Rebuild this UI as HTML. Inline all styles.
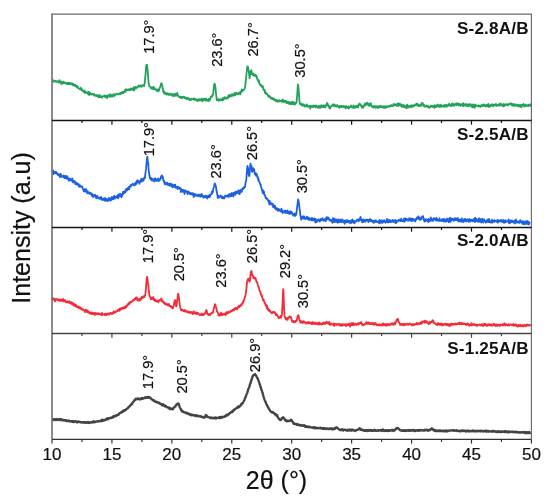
<!DOCTYPE html>
<html><head><meta charset="utf-8"><style>html,body{margin:0;padding:0;background:#fff;}svg{display:block;filter:blur(0.3px);}</style></head>
<body><svg width="550" height="503" viewBox="0 0 550 503">
<rect width="550" height="503" fill="#fff"/>
<path d="M52.2 81.1L52.5 81.5 52.8 81.2 53.1 80.1 53.4 81.6 53.7 81.3 54.0 80.7 54.3 81.5 54.6 81.4 54.9 81.4 55.2 81.3 55.5 81.6 55.8 80.8 56.1 81.3 56.4 81.1 56.7 81.8 57.0 81.5 57.3 81.4 57.6 81.1 57.9 81.5 58.2 81.7 58.5 81.6 58.8 82.7 59.1 82.6 59.4 80.2 59.7 80.8 60.0 82.0 60.3 81.9 60.6 82.4 60.9 82.5 61.2 83.8 61.5 81.7 61.8 82.3 62.1 83.9 62.4 83.1 62.7 83.2 63.0 82.5 63.3 81.8 63.6 83.0 63.9 83.1 64.2 82.3 64.5 82.7 64.8 83.1 65.1 82.6 65.4 83.2 65.7 83.3 66.0 83.3 66.3 83.0 66.6 83.8 66.9 84.0 67.2 83.7 67.5 82.9 67.8 84.0 68.1 83.2 68.4 84.2 68.7 82.9 69.0 84.2 69.3 83.7 69.6 82.9 69.9 83.6 70.2 83.8 70.5 84.0 70.8 83.3 71.1 83.2 71.4 84.1 71.7 83.8 72.0 84.3 72.3 84.7 72.6 83.3 72.9 84.6 73.2 85.4 73.5 84.5 73.8 84.3 74.1 85.5 74.4 85.3 74.7 85.9 75.0 85.3 75.3 84.8 75.6 85.9 75.9 85.8 76.2 86.8 76.5 86.6 76.8 85.7 77.1 86.1 77.4 87.7 77.7 87.8 78.0 87.1 78.3 87.7 78.6 88.2 78.9 88.4 79.2 88.8 79.5 88.6 79.8 88.6 80.1 88.6 80.4 89.7 80.7 87.7 81.0 89.3 81.3 89.6 81.6 88.8 81.9 90.2 82.2 89.7 82.5 90.9 82.8 90.5 83.1 91.2 83.4 91.7 83.7 91.4 84.0 90.7 84.3 90.5 84.6 92.8 84.9 91.7 85.2 91.5 85.5 92.2 85.8 92.1 86.1 92.9 86.4 92.5 86.7 92.6 87.0 92.3 87.3 93.1 87.6 92.3 87.9 93.5 88.2 94.1 88.5 92.3 88.8 91.8 89.1 93.8 89.4 95.2 89.7 93.0 90.0 92.9 90.3 94.2 90.6 93.3 90.9 93.6 91.2 93.8 91.5 94.5 91.8 94.0 92.1 94.5 92.4 94.3 92.7 93.9 93.0 94.3 93.3 94.0 93.6 94.7 93.9 94.1 94.2 94.2 94.5 95.9 94.8 95.0 95.1 95.1 95.4 95.6 95.7 95.1 96.0 95.3 96.3 95.8 96.6 95.8 96.9 95.0 97.2 96.4 97.5 95.5 97.8 95.3 98.1 95.5 98.4 95.9 98.7 97.3 99.0 95.5 99.3 96.5 99.6 95.0 99.9 96.4 100.2 97.1 100.5 96.3 100.8 96.1 101.1 96.7 101.4 97.0 101.7 96.9 102.0 97.8 102.3 96.6 102.6 96.1 102.9 96.4 103.2 96.4 103.5 96.5 103.8 96.4 104.1 96.5 104.4 95.3 104.7 96.9 105.0 96.0 105.3 95.6 105.6 96.8 105.9 97.2 106.2 96.6 106.5 96.4 106.8 95.7 107.1 98.1 107.4 96.8 107.7 95.5 108.0 95.7 108.3 96.2 108.6 95.2 108.9 96.2 109.2 95.8 109.5 96.9 109.8 96.6 110.1 94.2 110.4 95.9 110.7 94.8 111.0 96.5 111.3 95.8 111.6 96.0 111.9 94.9 112.2 96.7 112.5 96.7 112.8 94.7 113.1 95.5 113.4 94.8 113.7 95.1 114.0 94.2 114.3 96.2 114.6 94.3 114.9 94.6 115.2 95.1 115.5 94.3 115.8 94.5 116.1 94.2 116.4 94.4 116.7 93.7 117.0 94.1 117.3 94.2 117.6 94.1 117.9 94.3 118.2 94.0 118.5 94.6 118.8 93.8 119.1 93.9 119.4 93.5 119.7 93.5 120.0 93.0 120.3 94.1 120.6 92.9 120.9 93.1 121.2 93.7 121.5 93.7 121.8 93.1 122.1 91.9 122.4 93.4 122.7 93.2 123.0 91.9 123.3 93.1 123.6 91.9 123.9 91.4 124.2 91.9 124.5 91.4 124.8 91.3 125.1 89.8 125.4 91.8 125.7 90.0 126.0 89.2 126.3 90.4 126.6 89.8 126.9 90.2 127.2 89.7 127.5 89.9 127.8 90.1 128.1 89.4 128.4 90.3 128.7 89.6 129.0 89.3 129.3 89.9 129.6 90.1 129.9 89.7 130.2 89.2 130.5 90.1 130.8 88.5 131.1 89.0 131.4 89.6 131.7 88.6 132.0 89.4 132.3 89.3 132.6 89.8 132.9 88.5 133.2 88.6 133.5 89.1 133.8 87.1 134.1 90.6 134.4 88.0 134.7 87.9 135.0 88.8 135.3 88.1 135.6 86.8 135.9 88.3 136.2 88.3 136.5 87.3 136.8 87.3 137.1 87.6 137.4 86.6 137.7 87.3 138.0 86.9 138.3 86.2 138.6 85.6 138.9 86.2 139.2 85.6 139.5 86.7 139.8 86.1 140.1 86.4 140.4 86.0 140.7 86.0 141.0 85.3 141.3 86.2 141.6 86.9 141.9 85.5 142.2 85.3 142.5 85.6 142.8 85.3 143.1 85.1 143.4 85.6 143.7 85.3 144.0 86.3 144.3 85.1 144.6 83.6 144.9 81.1 145.2 77.2 145.5 75.5 145.8 70.5 146.1 67.0 146.4 64.9 146.7 64.6 147.0 64.9 147.3 67.8 147.6 69.2 147.9 74.4 148.2 78.3 148.5 81.6 148.8 83.4 149.1 85.3 149.4 86.4 149.7 86.3 150.0 86.6 150.3 87.2 150.6 87.2 150.9 88.3 151.2 88.5 151.5 87.8 151.8 88.2 152.1 87.1 152.4 88.5 152.7 88.1 153.0 88.5 153.3 89.3 153.6 86.9 153.9 88.6 154.2 87.9 154.5 89.1 154.8 88.1 155.1 88.8 155.4 89.4 155.7 89.9 156.0 89.7 156.3 89.4 156.6 89.7 156.9 90.8 157.2 90.4 157.5 89.4 157.8 91.2 158.1 90.9 158.4 91.3 158.7 90.3 159.0 90.5 159.3 88.6 159.6 88.8 159.9 87.2 160.2 87.1 160.5 86.5 160.8 84.3 161.1 83.7 161.4 83.1 161.7 83.8 162.0 84.6 162.3 85.1 162.6 87.7 162.9 89.4 163.2 91.9 163.5 90.7 163.8 92.1 164.1 93.5 164.4 91.9 164.7 92.2 165.0 93.5 165.3 93.9 165.6 92.9 165.9 93.8 166.2 93.6 166.5 94.6 166.8 93.7 167.1 94.4 167.4 93.2 167.7 93.8 168.0 93.9 168.3 94.8 168.6 94.5 168.9 93.7 169.2 94.7 169.5 94.9 169.8 94.4 170.1 94.4 170.4 94.5 170.7 93.6 171.0 94.9 171.3 95.0 171.6 94.3 171.9 95.4 172.2 94.1 172.5 94.7 172.8 94.8 173.1 96.4 173.4 94.1 173.7 95.5 174.0 95.7 174.3 95.3 174.6 95.9 174.9 94.4 175.2 93.6 175.5 95.6 175.8 94.3 176.1 94.8 176.4 94.2 176.7 95.5 177.0 94.6 177.3 93.0 177.6 94.3 177.9 95.1 178.2 95.9 178.5 96.4 178.8 96.4 179.1 97.1 179.4 97.0 179.7 96.6 180.0 97.6 180.3 96.6 180.6 97.2 180.9 97.3 181.2 98.0 181.5 96.8 181.8 98.3 182.1 97.3 182.4 97.1 182.7 96.8 183.0 97.6 183.3 97.3 183.6 96.6 183.9 96.6 184.2 97.0 184.5 97.0 184.8 98.2 185.1 98.4 185.4 98.1 185.7 97.9 186.0 97.5 186.3 97.9 186.6 98.5 186.9 99.4 187.2 98.7 187.5 98.0 187.8 98.3 188.1 98.1 188.4 98.0 188.7 98.5 189.0 98.8 189.3 100.0 189.6 98.9 189.9 99.8 190.2 100.1 190.5 99.1 190.8 100.1 191.1 99.5 191.4 98.8 191.7 99.3 192.0 99.2 192.3 99.0 192.6 99.1 192.9 99.3 193.2 99.5 193.5 98.7 193.8 99.2 194.1 98.3 194.4 99.5 194.7 99.7 195.0 99.4 195.3 99.5 195.6 99.8 195.9 99.0 196.2 99.3 196.5 99.8 196.8 100.1 197.1 99.8 197.4 101.2 197.7 99.6 198.0 100.3 198.3 100.5 198.6 99.7 198.9 99.3 199.2 99.1 199.5 100.0 199.8 100.6 200.1 100.1 200.4 100.1 200.7 99.7 201.0 100.4 201.3 98.6 201.6 100.1 201.9 100.0 202.2 99.1 202.5 101.3 202.8 98.9 203.1 99.1 203.4 99.0 203.7 100.4 204.0 99.0 204.3 100.0 204.6 99.9 204.9 99.6 205.2 98.6 205.5 99.0 205.8 100.5 206.1 98.6 206.4 99.1 206.7 99.7 207.0 100.5 207.3 100.3 207.6 100.7 207.9 99.6 208.2 100.9 208.5 100.5 208.8 98.9 209.1 100.7 209.4 100.9 209.7 98.6 210.0 98.8 210.3 99.3 210.6 97.0 210.9 96.4 211.2 96.5 211.5 96.6 211.8 96.3 212.1 96.7 212.4 96.1 212.7 94.5 213.0 94.6 213.3 93.1 213.6 89.7 213.9 86.7 214.2 84.1 214.5 84.3 214.8 83.7 215.1 86.0 215.4 86.9 215.7 90.3 216.0 93.3 216.3 95.7 216.6 98.9 216.9 100.3 217.2 98.9 217.5 99.4 217.8 99.4 218.1 99.0 218.4 100.6 218.7 100.9 219.0 100.5 219.3 100.1 219.6 99.9 219.9 100.0 220.2 99.3 220.5 100.3 220.8 100.3 221.1 100.2 221.4 99.1 221.7 99.4 222.0 99.2 222.3 100.3 222.6 99.2 222.9 97.8 223.2 99.2 223.5 100.0 223.8 99.2 224.1 99.2 224.4 98.6 224.7 97.2 225.0 97.3 225.3 97.5 225.6 98.2 225.9 98.4 226.2 98.6 226.5 97.8 226.8 98.6 227.1 97.7 227.4 97.3 227.7 98.2 228.0 96.9 228.3 95.6 228.6 96.6 228.9 97.2 229.2 95.0 229.5 96.6 229.8 96.4 230.1 95.5 230.4 95.2 230.7 95.7 231.0 95.4 231.3 96.3 231.6 95.5 231.9 94.1 232.2 94.3 232.5 95.2 232.8 95.8 233.1 94.7 233.4 94.6 233.7 95.5 234.0 94.2 234.3 93.9 234.6 93.1 234.9 93.6 235.2 95.3 235.5 92.9 235.8 93.7 236.1 92.7 236.4 93.7 236.7 94.1 237.0 93.3 237.3 93.9 237.6 93.8 237.9 93.6 238.2 94.4 238.5 93.7 238.8 93.0 239.1 92.7 239.4 92.5 239.7 93.3 240.0 92.7 240.3 94.4 240.6 93.5 240.9 91.6 241.2 91.0 241.5 92.0 241.8 89.4 242.1 90.3 242.4 91.1 242.7 89.8 243.0 90.0 243.3 90.0 243.6 90.4 243.9 89.7 244.2 89.4 244.5 88.8 244.8 87.7 245.1 87.3 245.4 84.2 245.7 81.3 246.0 78.6 246.3 75.7 246.6 72.7 246.9 70.3 247.2 67.3 247.5 66.4 247.8 66.6 248.1 68.0 248.4 69.3 248.7 70.9 249.0 73.0 249.3 76.2 249.6 78.3 249.9 75.3 250.2 74.6 250.5 71.2 250.8 71.3 251.1 70.7 251.4 70.3 251.7 72.3 252.0 74.1 252.3 73.5 252.6 74.8 252.9 74.6 253.2 73.7 253.5 75.7 253.8 75.1 254.1 74.4 254.4 75.8 254.7 75.4 255.0 74.9 255.3 75.8 255.6 74.8 255.9 76.1 256.2 75.6 256.5 77.0 256.8 76.5 257.1 78.9 257.4 78.9 257.7 80.4 258.0 79.7 258.3 80.7 258.6 82.1 258.9 80.4 259.2 82.0 259.5 83.9 259.8 84.0 260.1 84.9 260.4 84.5 260.7 85.6 261.0 85.2 261.3 85.2 261.6 85.5 261.9 86.7 262.2 87.2 262.5 87.6 262.8 86.2 263.1 87.6 263.4 89.0 263.7 90.0 264.0 89.9 264.3 90.1 264.6 89.6 264.9 92.9 265.2 91.2 265.5 93.4 265.8 93.7 266.1 93.2 266.4 93.1 266.7 93.9 267.0 93.4 267.3 94.6 267.6 94.8 267.9 95.5 268.2 96.0 268.5 96.8 268.8 95.7 269.1 96.9 269.4 96.0 269.7 96.2 270.0 96.6 270.3 96.6 270.6 98.1 270.9 98.3 271.2 98.8 271.5 98.1 271.8 98.5 272.1 98.2 272.4 98.0 272.7 99.2 273.0 99.2 273.3 98.5 273.6 99.8 273.9 98.4 274.2 99.6 274.5 99.5 274.8 99.7 275.1 99.5 275.4 100.9 275.7 100.8 276.0 101.3 276.3 100.8 276.6 99.9 276.9 100.6 277.2 100.2 277.5 101.3 277.8 101.8 278.1 101.3 278.4 100.7 278.7 100.9 279.0 101.3 279.3 100.2 279.6 101.3 279.9 101.3 280.2 100.8 280.5 100.9 280.8 101.3 281.1 100.7 281.4 100.7 281.7 101.6 282.0 100.9 282.3 101.5 282.6 99.7 282.9 99.5 283.2 101.8 283.5 102.1 283.8 101.1 284.1 100.8 284.4 101.8 284.7 100.8 285.0 101.8 285.3 100.6 285.6 102.0 285.9 100.8 286.2 102.1 286.5 103.3 286.8 102.2 287.1 103.0 287.4 102.1 287.7 102.0 288.0 101.7 288.3 103.4 288.6 102.7 288.9 103.9 289.2 102.1 289.5 102.8 289.8 103.0 290.1 103.9 290.4 104.2 290.7 102.7 291.0 102.4 291.3 102.0 291.6 104.1 291.9 103.2 292.2 102.9 292.5 103.3 292.8 101.7 293.1 102.3 293.4 104.0 293.7 103.7 294.0 103.6 294.3 102.8 294.6 103.8 294.9 104.6 295.2 102.6 295.5 103.3 295.8 102.8 296.1 103.1 296.4 102.6 296.7 101.3 297.0 97.0 297.3 93.6 297.6 88.0 297.9 84.5 298.2 85.0 298.5 88.7 298.8 91.6 299.1 95.9 299.4 100.8 299.7 102.2 300.0 103.5 300.3 104.5 300.6 104.3 300.9 104.4 301.2 104.6 301.5 103.8 301.8 105.0 302.1 105.7 302.4 105.4 302.7 104.1 303.0 105.4 303.3 104.7 303.6 105.2 303.9 105.5 304.2 104.7 304.5 106.4 304.8 105.6 305.1 106.2 305.4 106.1 305.7 106.6 306.0 106.6 306.3 104.9 306.6 105.9 306.9 104.5 307.2 105.6 307.5 106.4 307.8 106.6 308.1 106.8 308.4 105.8 308.7 106.2 309.0 106.1 309.3 106.9 309.6 107.1 309.9 105.9 310.2 108.6 310.5 106.1 310.8 105.9 311.1 106.5 311.4 106.7 311.7 106.5 312.0 105.8 312.3 107.2 312.6 106.3 312.9 107.2 313.2 107.2 313.5 105.4 313.8 105.6 314.1 105.6 314.4 106.5 314.7 106.3 315.0 106.5 315.3 105.8 315.6 106.6 315.9 107.3 316.2 105.5 316.5 106.2 316.8 106.5 317.1 106.3 317.4 106.3 317.7 107.6 318.0 107.2 318.3 107.0 318.6 105.9 318.9 107.9 319.2 106.7 319.5 106.1 319.8 106.2 320.1 106.1 320.4 107.8 320.7 106.6 321.0 106.5 321.3 105.1 321.6 107.0 321.9 105.8 322.2 105.7 322.5 106.9 322.8 105.9 323.1 107.0 323.4 107.2 323.7 105.3 324.0 106.4 324.3 105.5 324.6 106.4 324.9 107.0 325.2 105.4 325.5 107.4 325.8 105.9 326.1 105.1 326.4 105.1 326.7 104.7 327.0 102.9 327.3 104.0 327.6 103.5 327.9 105.6 328.2 105.4 328.5 105.5 328.8 107.0 329.1 105.9 329.4 106.9 329.7 108.6 330.0 107.4 330.3 108.3 330.6 107.3 330.9 106.5 331.2 106.4 331.5 106.3 331.8 105.7 332.1 105.2 332.4 105.0 332.7 104.4 333.0 105.5 333.3 105.7 333.6 105.9 333.9 104.3 334.2 106.1 334.5 105.6 334.8 104.7 335.1 105.8 335.4 106.3 335.7 106.2 336.0 106.4 336.3 106.7 336.6 106.7 336.9 106.2 337.2 104.9 337.5 105.8 337.8 106.6 338.1 106.1 338.4 106.9 338.7 107.0 339.0 106.5 339.3 107.8 339.6 105.9 339.9 107.2 340.2 106.3 340.5 106.1 340.8 107.0 341.1 106.3 341.4 107.2 341.7 105.9 342.0 106.7 342.3 106.2 342.6 106.6 342.9 106.5 343.2 106.1 343.5 107.2 343.8 106.0 344.1 106.2 344.4 107.4 344.7 107.5 345.0 107.3 345.3 107.1 345.6 108.4 345.9 106.1 346.2 106.5 346.5 106.3 346.8 107.5 347.1 107.2 347.4 107.7 347.7 107.6 348.0 106.9 348.3 106.5 348.6 106.4 348.9 108.5 349.2 107.7 349.5 107.4 349.8 106.8 350.1 106.9 350.4 106.8 350.7 106.9 351.0 105.5 351.3 107.0 351.6 106.8 351.9 107.3 352.2 107.2 352.5 107.6 352.8 107.1 353.1 107.6 353.4 105.4 353.7 106.4 354.0 108.2 354.3 106.3 354.6 106.9 354.9 107.5 355.2 106.5 355.5 107.5 355.8 106.1 356.1 105.7 356.4 106.1 356.7 105.8 357.0 106.9 357.3 106.6 357.6 107.0 357.9 105.7 358.2 107.4 358.5 104.9 358.8 104.3 359.1 104.2 359.4 103.6 359.7 103.5 360.0 104.2 360.3 105.1 360.6 105.2 360.9 105.7 361.2 105.1 361.5 105.4 361.8 107.7 362.1 106.6 362.4 107.3 362.7 107.6 363.0 107.9 363.3 106.0 363.6 106.4 363.9 106.2 364.2 106.0 364.5 104.4 364.8 105.6 365.1 103.5 365.4 105.3 365.7 105.1 366.0 104.7 366.3 103.2 366.6 104.4 366.9 103.0 367.2 102.8 367.5 103.2 367.8 103.6 368.1 104.6 368.4 105.4 368.7 103.8 369.0 105.0 369.3 106.0 369.6 105.3 369.9 105.1 370.2 103.5 370.5 104.8 370.8 103.2 371.1 104.6 371.4 105.8 371.7 106.6 372.0 106.2 372.3 106.9 372.6 106.3 372.9 106.5 373.2 107.6 373.5 106.8 373.8 106.7 374.1 105.9 374.4 106.9 374.7 107.2 375.0 106.3 375.3 106.5 375.6 107.8 375.9 106.9 376.2 106.6 376.5 106.1 376.8 106.4 377.1 106.6 377.4 107.7 377.7 106.4 378.0 108.0 378.3 106.2 378.6 106.6 378.9 107.3 379.2 106.6 379.5 106.3 379.8 106.7 380.1 107.1 380.4 105.7 380.7 106.6 381.0 106.7 381.3 106.5 381.6 107.3 381.9 106.4 382.2 106.6 382.5 106.8 382.8 107.3 383.1 106.7 383.4 107.8 383.7 106.2 384.0 107.6 384.3 106.2 384.6 106.7 384.9 107.0 385.2 108.1 385.5 107.3 385.8 106.5 386.1 107.6 386.4 106.5 386.7 106.1 387.0 106.9 387.3 106.6 387.6 107.1 387.9 106.1 388.2 106.6 388.5 106.7 388.8 106.4 389.1 106.2 389.4 105.7 389.7 106.6 390.0 106.1 390.3 106.2 390.6 105.6 390.9 105.7 391.2 105.0 391.5 105.6 391.8 106.0 392.1 105.5 392.4 105.9 392.7 105.5 393.0 106.1 393.3 105.0 393.6 104.0 393.9 105.3 394.2 104.9 394.5 104.3 394.8 105.3 395.1 105.0 395.4 105.1 395.7 104.5 396.0 104.8 396.3 104.8 396.6 105.8 396.9 104.2 397.2 104.6 397.5 104.8 397.8 103.5 398.1 103.6 398.4 106.1 398.7 103.5 399.0 105.1 399.3 104.2 399.6 104.4 399.9 103.6 400.2 104.4 400.5 105.6 400.8 104.3 401.1 105.6 401.4 105.6 401.7 106.8 402.0 105.2 402.3 106.5 402.6 106.3 402.9 105.7 403.2 104.8 403.5 107.0 403.8 105.2 404.1 105.9 404.4 106.8 404.7 107.0 405.0 105.8 405.3 106.4 405.6 106.3 405.9 107.3 406.2 108.1 406.5 105.3 406.8 107.1 407.1 104.6 407.4 106.5 407.7 105.8 408.0 107.8 408.3 106.6 408.6 106.0 408.9 106.1 409.2 106.1 409.5 106.5 409.8 106.3 410.1 106.8 410.4 107.4 410.7 106.8 411.0 105.5 411.3 105.3 411.6 105.8 411.9 107.0 412.2 106.0 412.5 105.8 412.8 106.3 413.1 105.2 413.4 105.4 413.7 106.4 414.0 105.8 414.3 105.5 414.6 105.8 414.9 105.0 415.2 104.7 415.5 104.6 415.8 105.1 416.1 104.5 416.4 103.6 416.7 104.1 417.0 104.7 417.3 105.6 417.6 103.8 417.9 104.9 418.2 104.7 418.5 105.6 418.8 105.5 419.1 106.3 419.4 105.7 419.7 105.0 420.0 104.9 420.3 105.3 420.6 105.0 420.9 106.1 421.2 105.3 421.5 103.3 421.8 104.1 422.1 102.9 422.4 102.8 422.7 104.5 423.0 104.7 423.3 104.0 423.6 106.1 423.9 104.8 424.2 105.0 424.5 106.5 424.8 106.5 425.1 106.4 425.4 106.5 425.7 106.6 426.0 106.4 426.3 106.4 426.6 105.3 426.9 105.6 427.2 106.9 427.5 106.0 427.8 106.8 428.1 107.3 428.4 106.2 428.7 106.6 429.0 107.8 429.3 106.9 429.6 107.6 429.9 107.4 430.2 106.9 430.5 106.3 430.8 105.8 431.1 105.6 431.4 106.6 431.7 106.6 432.0 106.2 432.3 106.8 432.6 105.9 432.9 107.0 433.2 106.2 433.5 106.2 433.8 106.2 434.1 106.1 434.4 107.8 434.7 105.1 435.0 106.2 435.3 106.9 435.6 106.6 435.9 105.9 436.2 107.2 436.5 105.4 436.8 105.2 437.1 106.4 437.4 105.1 437.7 104.5 438.0 106.6 438.3 106.5 438.6 106.4 438.9 105.6 439.2 106.1 439.5 105.3 439.8 107.0 440.1 106.4 440.4 106.4 440.7 104.6 441.0 106.4 441.3 106.8 441.6 106.6 441.9 106.3 442.2 105.8 442.5 105.6 442.8 106.2 443.1 106.0 443.4 105.9 443.7 105.5 444.0 106.8 444.3 104.9 444.6 105.7 444.9 105.3 445.2 106.3 445.5 106.5 445.8 106.4 446.1 106.1 446.4 104.6 446.7 106.9 447.0 105.9 447.3 105.4 447.6 105.5 447.9 105.2 448.2 105.7 448.5 105.6 448.8 105.2 449.1 103.7 449.4 105.3 449.7 105.6 450.0 105.6 450.3 105.2 450.6 105.5 450.9 105.9 451.2 104.9 451.5 106.1 451.8 103.8 452.1 104.2 452.4 104.4 452.7 103.3 453.0 104.2 453.3 105.6 453.6 105.6 453.9 104.8 454.2 105.8 454.5 104.8 454.8 104.2 455.1 104.7 455.4 104.4 455.7 104.9 456.0 103.4 456.3 105.0 456.6 104.0 456.9 104.9 457.2 103.3 457.5 104.0 457.8 104.4 458.1 104.9 458.4 103.5 458.7 105.4 459.0 104.7 459.3 104.0 459.6 105.2 459.9 104.5 460.2 105.2 460.5 106.0 460.8 105.0 461.1 104.2 461.4 104.3 461.7 105.0 462.0 104.9 462.3 104.2 462.6 104.3 462.9 105.2 463.2 106.4 463.5 103.2 463.8 105.4 464.1 104.8 464.4 105.5 464.7 105.6 465.0 105.1 465.3 104.4 465.6 104.2 465.9 103.9 466.2 105.9 466.5 105.0 466.8 104.8 467.1 105.0 467.4 104.4 467.7 105.5 468.0 106.1 468.3 106.0 468.6 104.3 468.9 106.2 469.2 104.9 469.5 104.1 469.8 104.6 470.1 104.8 470.4 105.4 470.7 104.8 471.0 104.5 471.3 105.3 471.6 106.8 471.9 105.1 472.2 105.9 472.5 105.6 472.8 107.3 473.1 104.4 473.4 106.4 473.7 104.8 474.0 105.3 474.3 105.6 474.6 107.8 474.9 105.2 475.2 104.5 475.5 106.6 475.8 105.2 476.1 105.6 476.4 105.8 476.7 105.9 477.0 105.7 477.3 106.0 477.6 106.1 477.9 106.4 478.2 105.6 478.5 105.4 478.8 105.2 479.1 106.3 479.4 105.9 479.7 106.3 480.0 106.2 480.3 107.0 480.6 106.0 480.9 106.4 481.2 105.1 481.5 105.2 481.8 105.7 482.1 105.1 482.4 106.3 482.7 105.0 483.0 105.9 483.3 104.3 483.6 105.1 483.9 105.6 484.2 105.7 484.5 104.7 484.8 105.9 485.1 106.4 485.4 106.2 485.7 105.3 486.0 105.4 486.3 105.0 486.6 106.1 486.9 106.6 487.2 105.4 487.5 104.6 487.8 105.8 488.1 106.1 488.4 103.9 488.7 105.7 489.0 107.0 489.3 106.1 489.6 105.9 489.9 105.8 490.2 106.2 490.5 104.9 490.8 104.9 491.1 105.7 491.4 105.0 491.7 105.6 492.0 104.1 492.3 105.9 492.6 105.9 492.9 105.3 493.2 105.4 493.5 106.3 493.8 104.6 494.1 104.6 494.4 104.5 494.7 104.9 495.0 104.5 495.3 105.2 495.6 104.7 495.9 104.2 496.2 104.1 496.5 105.9 496.8 105.0 497.1 104.9 497.4 105.1 497.7 105.0 498.0 105.5 498.3 105.3 498.6 104.6 498.9 104.4 499.2 104.2 499.5 104.1 499.8 105.8 500.1 104.3 500.4 103.5 500.7 104.3 501.0 104.3 501.3 105.0 501.6 104.2 501.9 105.1 502.2 104.9 502.5 105.5 502.8 106.1 503.1 106.5 503.4 105.5 503.7 103.8 504.0 104.3 504.3 104.7 504.6 105.9 504.9 104.9 505.2 105.3 505.5 104.3 505.8 104.8 506.1 104.9 506.4 104.1 506.7 104.9 507.0 105.1 507.3 104.3 507.6 105.0 507.9 105.4 508.2 104.4 508.5 104.3 508.8 104.1 509.1 103.9 509.4 104.4 509.7 104.0 510.0 104.1 510.3 103.8 510.6 103.3 510.9 103.7 511.2 104.5 511.5 103.6 511.8 104.0 512.1 105.5 512.4 105.2 512.7 104.1 513.0 105.0 513.3 104.2 513.6 105.7 513.9 104.4 514.2 104.8 514.5 105.8 514.8 104.4 515.1 105.8 515.4 104.5 515.7 105.3 516.0 105.0 516.3 105.2 516.6 105.4 516.9 105.3 517.2 104.7 517.5 106.0 517.8 105.9 518.1 106.3 518.4 106.4 518.7 104.7 519.0 106.4 519.3 106.4 519.6 105.3 519.9 106.3 520.2 106.6 520.5 105.2 520.8 104.7 521.1 105.4 521.4 107.4 521.7 105.8 522.0 104.8 522.3 105.4 522.6 104.9 522.9 105.3 523.2 105.6 523.5 103.9 523.8 105.8 524.1 106.5 524.4 105.4 524.7 105.3 525.0 106.3 525.3 104.7 525.6 104.7 525.9 104.6 526.2 105.4 526.5 105.7 526.8 105.4 527.1 105.8 527.4 106.0 527.7 105.7 528.0 104.9 528.3 105.2 528.6 106.1 528.9 104.6 529.2 105.1 529.5 105.0 529.8 105.1 530.1 104.5 530.4 104.3 530.7 106.8" fill="none" stroke="#22a25a" stroke-width="1.8" stroke-linejoin="round"/>
<path d="M52.2 173.2L52.5 172.3 52.8 172.3 53.1 170.4 53.4 174.1 53.7 173.4 54.0 172.1 54.3 173.0 54.6 172.6 54.9 171.8 55.2 173.2 55.5 172.1 55.8 172.2 56.1 172.0 56.4 173.4 56.7 173.1 57.0 174.0 57.3 173.3 57.6 174.2 57.9 173.6 58.2 175.4 58.5 175.0 58.8 175.2 59.1 175.4 59.4 174.3 59.7 176.0 60.0 177.2 60.3 174.0 60.6 174.0 60.9 174.3 61.2 176.5 61.5 175.9 61.8 176.8 62.1 176.6 62.4 176.2 62.7 176.3 63.0 176.0 63.3 177.0 63.6 175.3 63.9 176.0 64.2 176.7 64.5 178.2 64.8 176.0 65.1 175.9 65.4 176.4 65.7 178.0 66.0 177.0 66.3 178.5 66.6 175.8 66.9 178.6 67.2 178.7 67.5 176.6 67.8 178.2 68.1 179.3 68.4 178.5 68.7 179.4 69.0 180.8 69.3 179.1 69.6 178.8 69.9 178.5 70.2 180.0 70.5 179.4 70.8 179.6 71.1 179.8 71.4 180.7 71.7 179.3 72.0 179.0 72.3 178.4 72.6 181.9 72.9 181.0 73.2 182.5 73.5 181.4 73.8 180.9 74.1 182.2 74.4 181.9 74.7 181.0 75.0 181.6 75.3 184.2 75.6 183.1 75.9 183.4 76.2 183.0 76.5 182.8 76.8 184.5 77.1 183.8 77.4 183.5 77.7 184.2 78.0 183.8 78.3 185.0 78.6 186.0 78.9 184.5 79.2 186.8 79.5 185.1 79.8 186.1 80.1 185.4 80.4 186.2 80.7 186.7 81.0 186.5 81.3 186.5 81.6 186.8 81.9 186.9 82.2 186.5 82.5 187.9 82.8 188.8 83.1 189.5 83.4 189.5 83.7 191.4 84.0 189.7 84.3 189.2 84.6 191.6 84.9 189.2 85.2 191.2 85.5 189.7 85.8 191.1 86.1 189.2 86.4 192.0 86.7 191.3 87.0 190.7 87.3 193.3 87.6 192.7 87.9 192.2 88.2 191.7 88.5 192.5 88.8 192.6 89.1 193.6 89.4 193.9 89.7 192.7 90.0 193.0 90.3 193.2 90.6 192.6 90.9 193.5 91.2 194.1 91.5 195.0 91.8 195.7 92.1 194.0 92.4 195.4 92.7 194.6 93.0 197.1 93.3 195.3 93.6 196.0 93.9 194.8 94.2 195.1 94.5 196.1 94.8 195.8 95.1 196.6 95.4 195.0 95.7 197.2 96.0 195.9 96.3 198.4 96.6 196.7 96.9 198.1 97.2 196.0 97.5 197.8 97.8 196.8 98.1 197.3 98.4 197.8 98.7 197.7 99.0 198.3 99.3 198.8 99.6 198.9 99.9 198.3 100.2 197.3 100.5 197.9 100.8 198.5 101.1 196.8 101.4 199.5 101.7 198.7 102.0 198.8 102.3 200.0 102.6 199.8 102.9 199.5 103.2 198.4 103.5 199.7 103.8 199.8 104.1 198.8 104.4 200.6 104.7 200.2 105.0 198.0 105.3 199.9 105.6 198.7 105.9 200.9 106.2 200.6 106.5 198.9 106.8 199.1 107.1 200.0 107.4 199.6 107.7 201.2 108.0 200.4 108.3 199.5 108.6 200.2 108.9 197.8 109.2 199.8 109.5 200.2 109.8 199.1 110.1 198.6 110.4 199.6 110.7 200.7 111.0 199.1 111.3 197.7 111.6 199.9 111.9 196.8 112.2 198.8 112.5 197.7 112.8 199.0 113.1 197.3 113.4 199.1 113.7 198.1 114.0 196.1 114.3 195.8 114.6 197.2 114.9 198.6 115.2 197.4 115.5 197.3 115.8 196.9 116.1 197.7 116.4 197.2 116.7 197.0 117.0 195.8 117.3 197.6 117.6 197.7 117.9 195.2 118.2 198.3 118.5 196.8 118.8 195.6 119.1 194.2 119.4 196.4 119.7 196.1 120.0 195.0 120.3 193.8 120.6 196.2 120.9 194.6 121.2 194.5 121.5 197.3 121.8 196.5 122.1 195.3 122.4 193.9 122.7 194.7 123.0 191.8 123.3 193.8 123.6 192.7 123.9 192.0 124.2 191.4 124.5 193.0 124.8 192.3 125.1 192.0 125.4 192.3 125.7 190.4 126.0 189.7 126.3 188.9 126.6 189.9 126.9 190.6 127.2 189.5 127.5 189.9 127.8 187.9 128.1 188.3 128.4 187.7 128.7 187.0 129.0 189.5 129.3 188.3 129.6 186.6 129.9 186.3 130.2 186.7 130.5 185.2 130.8 186.7 131.1 184.9 131.4 185.5 131.7 184.8 132.0 185.1 132.3 184.1 132.6 183.7 132.9 184.1 133.2 184.2 133.5 184.3 133.8 184.5 134.1 185.6 134.4 184.8 134.7 183.7 135.0 184.4 135.3 183.0 135.6 184.8 135.9 183.8 136.2 181.9 136.5 183.7 136.8 183.6 137.1 180.3 137.4 181.9 137.7 182.0 138.0 180.5 138.3 181.2 138.6 181.1 138.9 182.3 139.2 182.0 139.5 183.9 139.8 181.1 140.1 182.3 140.4 181.2 140.7 181.2 141.0 179.7 141.3 178.8 141.6 179.7 141.9 180.9 142.2 181.5 142.5 180.4 142.8 180.1 143.1 178.7 143.4 180.6 143.7 180.2 144.0 178.2 144.3 178.2 144.6 176.9 144.9 178.1 145.2 175.3 145.5 172.5 145.8 170.7 146.1 168.4 146.4 164.7 146.7 161.0 147.0 158.5 147.3 156.7 147.6 159.2 147.9 163.2 148.2 162.9 148.5 167.4 148.8 170.9 149.1 172.7 149.4 176.0 149.7 175.7 150.0 178.5 150.3 177.5 150.6 178.7 150.9 179.6 151.2 179.0 151.5 178.1 151.8 179.4 152.1 180.7 152.4 179.9 152.7 180.2 153.0 179.0 153.3 180.0 153.6 180.5 153.9 179.8 154.2 181.5 154.5 179.5 154.8 178.7 155.1 178.1 155.4 180.6 155.7 179.4 156.0 180.3 156.3 179.8 156.6 180.9 156.9 180.6 157.2 179.1 157.5 179.8 157.8 180.6 158.1 178.5 158.4 181.0 158.7 180.9 159.0 180.8 159.3 179.8 159.6 180.3 159.9 179.0 160.2 179.7 160.5 178.2 160.8 177.7 161.1 176.2 161.4 176.3 161.7 177.2 162.0 175.4 162.3 178.2 162.6 176.5 162.9 177.3 163.2 179.9 163.5 180.7 163.8 181.9 164.1 180.8 164.4 182.8 164.7 183.4 165.0 184.5 165.3 183.3 165.6 183.9 165.9 182.6 166.2 183.4 166.5 183.2 166.8 184.2 167.1 182.7 167.4 182.9 167.7 184.2 168.0 185.3 168.3 184.1 168.6 184.1 168.9 183.6 169.2 184.9 169.5 184.6 169.8 185.7 170.1 184.6 170.4 183.6 170.7 184.1 171.0 183.9 171.3 183.8 171.6 186.3 171.9 186.0 172.2 184.4 172.5 187.3 172.8 186.0 173.1 185.1 173.4 186.5 173.7 186.2 174.0 185.8 174.3 184.8 174.6 186.7 174.9 187.1 175.2 184.6 175.5 187.6 175.8 187.8 176.1 186.9 176.4 187.5 176.7 187.3 177.0 186.9 177.3 187.5 177.6 189.1 177.9 186.7 178.2 188.4 178.5 188.4 178.8 187.8 179.1 188.1 179.4 187.4 179.7 188.0 180.0 189.0 180.3 189.4 180.6 188.4 180.9 192.2 181.2 189.0 181.5 189.8 181.8 189.7 182.1 189.7 182.4 191.4 182.7 190.0 183.0 191.8 183.3 191.8 183.6 190.1 183.9 192.1 184.2 190.8 184.5 194.1 184.8 191.4 185.1 191.1 185.4 190.3 185.7 191.0 186.0 191.8 186.3 191.5 186.6 191.4 186.9 192.0 187.2 192.5 187.5 194.1 187.8 191.3 188.1 192.5 188.4 192.2 188.7 191.8 189.0 192.1 189.3 192.5 189.6 194.0 189.9 193.3 190.2 193.0 190.5 194.1 190.8 193.9 191.1 193.6 191.4 194.2 191.7 193.2 192.0 194.6 192.3 194.5 192.6 193.8 192.9 193.1 193.2 195.7 193.5 194.5 193.8 197.2 194.1 194.0 194.4 195.4 194.7 194.3 195.0 195.0 195.3 195.6 195.6 194.2 195.9 194.9 196.2 195.2 196.5 195.2 196.8 195.7 197.1 196.2 197.4 196.1 197.7 195.6 198.0 195.1 198.3 194.5 198.6 194.9 198.9 195.2 199.2 196.3 199.5 195.5 199.8 194.7 200.1 196.5 200.4 195.2 200.7 195.3 201.0 195.9 201.3 196.5 201.6 194.0 201.9 195.2 202.2 196.4 202.5 196.0 202.8 195.6 203.1 195.9 203.4 197.7 203.7 196.1 204.0 197.2 204.3 197.3 204.6 196.2 204.9 197.1 205.2 196.3 205.5 196.2 205.8 195.8 206.1 197.6 206.4 196.5 206.7 196.4 207.0 195.9 207.3 198.6 207.6 197.6 207.9 196.9 208.2 196.4 208.5 195.6 208.8 197.2 209.1 197.0 209.4 195.2 209.7 197.2 210.0 196.6 210.3 194.7 210.6 194.7 210.9 194.4 211.2 194.4 211.5 193.6 211.8 191.6 212.1 193.7 212.4 192.0 212.7 192.1 213.0 191.2 213.3 188.7 213.6 188.0 213.9 187.0 214.2 185.9 214.5 184.2 214.8 183.4 215.1 184.2 215.4 184.4 215.7 186.2 216.0 186.6 216.3 190.2 216.6 190.5 216.9 192.3 217.2 194.1 217.5 195.7 217.8 198.1 218.1 197.1 218.4 195.7 218.7 197.1 219.0 196.5 219.3 197.4 219.6 196.4 219.9 196.4 220.2 196.5 220.5 196.4 220.8 195.4 221.1 196.4 221.4 197.0 221.7 198.1 222.0 196.7 222.3 196.7 222.6 197.5 222.9 197.5 223.2 198.4 223.5 197.5 223.8 197.0 224.1 198.2 224.4 198.3 224.7 196.5 225.0 197.0 225.3 195.3 225.6 196.4 225.9 195.8 226.2 196.4 226.5 196.0 226.8 196.2 227.1 196.2 227.4 196.6 227.7 196.3 228.0 195.4 228.3 194.7 228.6 196.9 228.9 196.9 229.2 195.2 229.5 196.0 229.8 194.0 230.1 193.9 230.4 194.9 230.7 196.4 231.0 194.0 231.3 194.1 231.6 196.2 231.9 193.0 232.2 195.1 232.5 194.9 232.8 194.2 233.1 194.4 233.4 196.5 233.7 193.0 234.0 193.6 234.3 193.6 234.6 193.0 234.9 192.3 235.2 194.9 235.5 193.5 235.8 191.6 236.1 192.5 236.4 193.4 236.7 193.3 237.0 191.5 237.3 192.6 237.6 192.8 237.9 192.8 238.2 192.7 238.5 190.5 238.8 193.7 239.1 192.1 239.4 193.3 239.7 194.1 240.0 191.2 240.3 190.1 240.6 191.8 240.9 190.7 241.2 190.3 241.5 189.6 241.8 191.8 242.1 189.6 242.4 188.5 242.7 189.1 243.0 188.2 243.3 189.0 243.6 188.2 243.9 187.2 244.2 188.2 244.5 186.6 244.8 187.2 245.1 186.6 245.4 183.8 245.7 182.0 246.0 181.0 246.3 179.7 246.6 175.7 246.9 171.4 247.2 167.3 247.5 165.9 247.8 167.2 248.1 168.4 248.4 171.6 248.7 174.8 249.0 175.8 249.3 176.1 249.6 174.1 249.9 170.2 250.2 166.3 250.5 163.7 250.8 165.6 251.1 165.7 251.4 165.6 251.7 167.7 252.0 171.6 252.3 171.9 252.6 170.4 252.9 170.9 253.2 168.1 253.5 169.2 253.8 170.4 254.1 169.1 254.4 171.4 254.7 173.6 255.0 174.3 255.3 173.1 255.6 174.1 255.9 175.5 256.2 174.0 256.5 173.5 256.8 175.1 257.1 175.4 257.4 177.5 257.7 177.2 258.0 177.1 258.3 180.7 258.6 178.9 258.9 180.5 259.2 181.5 259.5 182.5 259.8 182.9 260.1 184.3 260.4 184.7 260.7 184.5 261.0 186.6 261.3 187.5 261.6 188.5 261.9 189.7 262.2 189.8 262.5 192.2 262.8 193.1 263.1 190.3 263.4 192.9 263.7 192.8 264.0 191.7 264.3 194.9 264.6 194.5 264.9 195.2 265.2 195.4 265.5 197.5 265.8 198.1 266.1 197.7 266.4 198.6 266.7 198.3 267.0 199.0 267.3 198.6 267.6 199.8 267.9 199.6 268.2 201.0 268.5 201.8 268.8 201.8 269.1 203.0 269.4 204.7 269.7 200.8 270.0 203.0 270.3 202.9 270.6 203.3 270.9 202.8 271.2 204.4 271.5 204.4 271.8 204.3 272.1 204.9 272.4 204.9 272.7 203.6 273.0 207.0 273.3 206.0 273.6 205.6 273.9 207.0 274.2 206.4 274.5 205.3 274.8 208.2 275.1 206.1 275.4 207.7 275.7 208.2 276.0 209.5 276.3 209.5 276.6 208.7 276.9 208.1 277.2 208.5 277.5 210.0 277.8 210.8 278.1 209.8 278.4 208.9 278.7 210.6 279.0 209.4 279.3 209.5 279.6 209.8 279.9 210.7 280.2 210.5 280.5 211.3 280.8 211.6 281.1 211.0 281.4 208.6 281.7 209.3 282.0 211.0 282.3 210.9 282.6 213.0 282.9 211.1 283.2 211.1 283.5 212.2 283.8 212.4 284.1 211.3 284.4 212.0 284.7 210.6 285.0 210.9 285.3 212.9 285.6 210.6 285.9 212.8 286.2 212.6 286.5 212.7 286.8 212.9 287.1 212.7 287.4 210.3 287.7 211.4 288.0 211.9 288.3 213.3 288.6 211.6 288.9 212.0 289.2 212.4 289.5 214.0 289.8 211.6 290.1 211.8 290.4 213.6 290.7 211.3 291.0 213.6 291.3 213.0 291.6 212.0 291.9 213.2 292.2 212.8 292.5 214.0 292.8 214.3 293.1 215.5 293.4 214.3 293.7 214.6 294.0 214.2 294.3 214.8 294.6 215.9 294.9 213.4 295.2 215.8 295.5 214.8 295.8 215.4 296.1 214.9 296.4 213.7 296.7 210.9 297.0 207.9 297.3 206.3 297.6 203.6 297.9 200.7 298.2 199.4 298.5 200.4 298.8 202.1 299.1 205.3 299.4 207.0 299.7 210.2 300.0 210.9 300.3 215.3 300.6 215.4 300.9 218.1 301.2 219.7 301.5 216.8 301.8 218.4 302.1 217.6 302.4 216.8 302.7 216.6 303.0 217.9 303.3 218.7 303.6 217.8 303.9 216.1 304.2 216.6 304.5 217.4 304.8 218.9 305.1 218.0 305.4 218.1 305.7 219.0 306.0 217.8 306.3 218.0 306.6 217.9 306.9 216.6 307.2 218.7 307.5 218.7 307.8 219.3 308.1 217.4 308.4 217.9 308.7 219.5 309.0 219.0 309.3 220.1 309.6 218.1 309.9 219.2 310.2 218.4 310.5 219.4 310.8 218.8 311.1 219.7 311.4 220.3 311.7 220.0 312.0 217.8 312.3 220.3 312.6 220.0 312.9 218.7 313.2 218.9 313.5 219.7 313.8 220.3 314.1 219.5 314.4 218.5 314.7 220.2 315.0 220.2 315.3 222.3 315.6 219.0 315.9 222.5 316.2 221.8 316.5 220.6 316.8 221.8 317.1 220.5 317.4 221.3 317.7 219.8 318.0 220.5 318.3 219.6 318.6 219.1 318.9 220.3 319.2 219.9 319.5 221.0 319.8 221.6 320.1 220.3 320.4 220.4 320.7 220.5 321.0 218.8 321.3 220.4 321.6 220.1 321.9 220.0 322.2 219.0 322.5 218.1 322.8 219.6 323.1 220.0 323.4 220.8 323.7 220.5 324.0 220.7 324.3 219.6 324.6 220.2 324.9 218.9 325.2 219.6 325.5 219.7 325.8 221.1 326.1 218.8 326.4 217.3 326.7 219.5 327.0 217.4 327.3 218.0 327.6 217.7 327.9 217.2 328.2 219.3 328.5 218.9 328.8 218.2 329.1 219.2 329.4 219.2 329.7 220.6 330.0 220.0 330.3 220.0 330.6 220.2 330.9 220.4 331.2 221.1 331.5 220.0 331.8 220.7 332.1 221.2 332.4 222.9 332.7 221.6 333.0 218.1 333.3 220.3 333.6 220.4 333.9 221.1 334.2 222.2 334.5 221.5 334.8 218.7 335.1 221.1 335.4 220.9 335.7 221.2 336.0 222.0 336.3 219.8 336.6 221.8 336.9 219.3 337.2 220.8 337.5 221.1 337.8 222.9 338.1 220.2 338.4 219.3 338.7 221.4 339.0 220.2 339.3 222.2 339.6 220.2 339.9 220.0 340.2 221.9 340.5 220.9 340.8 221.7 341.1 219.5 341.4 222.3 341.7 220.3 342.0 221.6 342.3 219.9 342.6 219.5 342.9 220.6 343.2 221.0 343.5 222.3 343.8 221.3 344.1 221.6 344.4 221.6 344.7 223.8 345.0 220.3 345.3 222.2 345.6 221.0 345.9 221.4 346.2 220.7 346.5 222.3 346.8 220.1 347.1 220.1 347.4 221.1 347.7 220.3 348.0 222.0 348.3 222.3 348.6 220.8 348.9 222.2 349.2 220.9 349.5 221.5 349.8 221.6 350.1 223.3 350.4 221.6 350.7 220.8 351.0 220.8 351.3 222.8 351.6 220.2 351.9 221.3 352.2 221.4 352.5 219.5 352.8 221.3 353.1 222.6 353.4 221.9 353.7 220.9 354.0 222.3 354.3 222.1 354.6 223.4 354.9 220.9 355.2 221.2 355.5 221.5 355.8 221.3 356.1 221.5 356.4 221.2 356.7 220.6 357.0 219.8 357.3 220.6 357.6 219.8 357.9 220.0 358.2 220.4 358.5 221.3 358.8 221.3 359.1 219.1 359.4 219.8 359.7 219.7 360.0 218.7 360.3 217.3 360.6 217.0 360.9 220.0 361.2 220.5 361.5 220.4 361.8 219.6 362.1 222.2 362.4 222.3 362.7 221.2 363.0 221.1 363.3 219.4 363.6 221.8 363.9 219.6 364.2 221.5 364.5 221.4 364.8 220.7 365.1 221.8 365.4 220.0 365.7 220.7 366.0 220.7 366.3 220.1 366.6 219.5 366.9 220.9 367.2 220.2 367.5 219.6 367.8 219.7 368.1 220.0 368.4 222.1 368.7 220.2 369.0 220.0 369.3 219.4 369.6 219.4 369.9 219.0 370.2 221.0 370.5 221.0 370.8 220.2 371.1 219.9 371.4 221.0 371.7 221.0 372.0 220.3 372.3 221.8 372.6 221.7 372.9 221.5 373.2 222.3 373.5 221.0 373.8 222.8 374.1 220.7 374.4 222.0 374.7 222.1 375.0 221.3 375.3 221.9 375.6 220.4 375.9 220.2 376.2 221.4 376.5 220.9 376.8 222.1 377.1 221.6 377.4 222.1 377.7 221.9 378.0 221.8 378.3 221.7 378.6 221.2 378.9 221.2 379.2 223.4 379.5 220.0 379.8 221.4 380.1 222.5 380.4 221.9 380.7 222.8 381.0 222.1 381.3 220.4 381.6 221.3 381.9 220.3 382.2 222.5 382.5 222.9 382.8 221.2 383.1 222.1 383.4 221.2 383.7 220.3 384.0 221.2 384.3 220.1 384.6 221.1 384.9 221.8 385.2 222.2 385.5 222.7 385.8 221.3 386.1 221.8 386.4 221.9 386.7 222.1 387.0 219.0 387.3 220.9 387.6 222.3 387.9 220.5 388.2 221.8 388.5 222.3 388.8 219.8 389.1 221.4 389.4 221.8 389.7 221.5 390.0 220.1 390.3 221.8 390.6 221.0 390.9 222.2 391.2 221.8 391.5 220.9 391.8 221.6 392.1 220.8 392.4 220.7 392.7 219.9 393.0 221.1 393.3 222.0 393.6 221.4 393.9 221.2 394.2 220.7 394.5 220.7 394.8 221.8 395.1 219.8 395.4 223.0 395.7 221.0 396.0 223.0 396.3 222.1 396.6 220.6 396.9 221.6 397.2 221.1 397.5 221.3 397.8 221.6 398.1 220.3 398.4 220.2 398.7 220.4 399.0 219.5 399.3 220.4 399.6 220.8 399.9 220.8 400.2 220.8 400.5 220.2 400.8 221.2 401.1 218.6 401.4 220.1 401.7 220.1 402.0 221.2 402.3 221.0 402.6 221.1 402.9 220.3 403.2 221.2 403.5 219.4 403.8 220.3 404.1 218.3 404.4 221.8 404.7 221.6 405.0 219.7 405.3 219.4 405.6 218.3 405.9 218.8 406.2 220.2 406.5 220.0 406.8 218.8 407.1 219.7 407.4 219.5 407.7 220.5 408.0 220.7 408.3 219.9 408.6 220.2 408.9 220.0 409.2 218.2 409.5 220.2 409.8 219.9 410.1 220.7 410.4 218.3 410.7 220.7 411.0 219.4 411.3 220.2 411.6 221.0 411.9 218.6 412.2 218.7 412.5 220.8 412.8 218.8 413.1 218.9 413.4 220.3 413.7 219.6 414.0 220.4 414.3 220.0 414.6 219.6 414.9 220.5 415.2 221.4 415.5 219.2 415.8 220.4 416.1 219.9 416.4 218.7 416.7 218.8 417.0 217.3 417.3 217.4 417.6 218.1 417.9 217.7 418.2 218.9 418.5 216.5 418.8 217.6 419.1 217.5 419.4 218.2 419.7 219.7 420.0 217.8 420.3 219.9 420.6 218.6 420.9 218.6 421.2 219.2 421.5 217.3 421.8 217.5 422.1 216.6 422.4 216.4 422.7 216.7 423.0 216.1 423.3 217.8 423.6 219.5 423.9 220.2 424.2 219.2 424.5 221.7 424.8 221.3 425.1 219.6 425.4 219.8 425.7 221.2 426.0 219.1 426.3 220.0 426.6 220.6 426.9 220.4 427.2 220.5 427.5 220.8 427.8 219.7 428.1 219.9 428.4 222.1 428.7 218.9 429.0 219.7 429.3 220.2 429.6 219.4 429.9 221.0 430.2 219.9 430.5 220.5 430.8 217.4 431.1 220.7 431.4 220.6 431.7 218.8 432.0 220.6 432.3 219.7 432.6 220.2 432.9 221.0 433.2 219.4 433.5 218.4 433.8 219.2 434.1 218.1 434.4 218.5 434.7 218.5 435.0 218.6 435.3 220.3 435.6 220.0 435.9 218.5 436.2 220.3 436.5 217.8 436.8 218.8 437.1 219.3 437.4 220.5 437.7 220.1 438.0 219.9 438.3 220.8 438.6 220.3 438.9 220.9 439.2 219.0 439.5 218.3 439.8 219.5 440.1 220.6 440.4 220.2 440.7 220.8 441.0 220.7 441.3 220.6 441.6 220.9 441.9 219.5 442.2 221.2 442.5 219.4 442.8 220.2 443.1 219.1 443.4 220.8 443.7 219.0 444.0 221.7 444.3 219.2 444.6 220.7 444.9 220.3 445.2 219.7 445.5 221.6 445.8 220.0 446.1 221.7 446.4 219.5 446.7 219.6 447.0 218.5 447.3 220.8 447.6 221.1 447.9 220.5 448.2 220.1 448.5 219.3 448.8 222.3 449.1 220.8 449.4 218.4 449.7 219.7 450.0 217.6 450.3 221.3 450.6 221.7 450.9 221.1 451.2 219.7 451.5 219.2 451.8 218.4 452.1 220.1 452.4 218.9 452.7 219.2 453.0 218.9 453.3 219.2 453.6 220.2 453.9 220.9 454.2 219.5 454.5 219.4 454.8 218.3 455.1 218.2 455.4 218.3 455.7 220.1 456.0 219.5 456.3 220.1 456.6 219.6 456.9 218.9 457.2 218.2 457.5 219.1 457.8 218.2 458.1 221.4 458.4 219.9 458.7 219.4 459.0 221.7 459.3 219.6 459.6 220.6 459.9 220.0 460.2 220.6 460.5 220.0 460.8 220.9 461.1 221.7 461.4 219.3 461.7 218.4 462.0 221.7 462.3 220.6 462.6 221.3 462.9 220.2 463.2 221.9 463.5 222.1 463.8 219.4 464.1 221.1 464.4 219.9 464.7 219.0 465.0 220.2 465.3 221.0 465.6 219.2 465.9 219.3 466.2 221.6 466.5 220.5 466.8 220.8 467.1 219.4 467.4 219.8 467.7 220.5 468.0 220.6 468.3 220.6 468.6 221.9 468.9 220.6 469.2 219.0 469.5 219.6 469.8 220.4 470.1 221.6 470.4 219.8 470.7 220.1 471.0 220.4 471.3 219.8 471.6 219.7 471.9 220.2 472.2 221.3 472.5 220.8 472.8 220.1 473.1 220.8 473.4 219.2 473.7 221.3 474.0 221.1 474.3 220.7 474.6 218.9 474.9 222.2 475.2 217.7 475.5 219.5 475.8 219.5 476.1 221.0 476.4 219.0 476.7 220.6 477.0 220.2 477.3 220.1 477.6 221.2 477.9 221.7 478.2 220.7 478.5 220.1 478.8 218.3 479.1 221.7 479.4 220.1 479.7 218.7 480.0 220.6 480.3 221.8 480.6 220.3 480.9 219.4 481.2 222.5 481.5 221.1 481.8 220.8 482.1 221.5 482.4 218.6 482.7 220.5 483.0 220.4 483.3 222.7 483.6 220.1 483.9 220.2 484.2 219.4 484.5 220.0 484.8 220.5 485.1 221.0 485.4 220.6 485.7 222.6 486.0 221.3 486.3 221.4 486.6 222.1 486.9 221.5 487.2 220.4 487.5 219.5 487.8 221.3 488.1 220.2 488.4 222.2 488.7 220.3 489.0 219.0 489.3 221.1 489.6 222.0 489.9 220.9 490.2 221.3 490.5 221.3 490.8 222.7 491.1 221.4 491.4 221.1 491.7 220.6 492.0 219.7 492.3 222.5 492.6 222.2 492.9 220.3 493.2 221.8 493.5 221.5 493.8 220.9 494.1 220.9 494.4 221.9 494.7 220.1 495.0 220.7 495.3 221.1 495.6 221.2 495.9 221.0 496.2 221.4 496.5 221.7 496.8 220.4 497.1 221.3 497.4 220.7 497.7 222.6 498.0 219.9 498.3 221.0 498.6 221.8 498.9 220.9 499.2 220.9 499.5 220.7 499.8 221.5 500.1 220.1 500.4 221.1 500.7 221.1 501.0 219.9 501.3 221.5 501.6 220.8 501.9 221.5 502.2 222.0 502.5 221.5 502.8 220.1 503.1 221.5 503.4 219.8 503.7 220.5 504.0 222.8 504.3 221.2 504.6 222.7 504.9 221.1 505.2 221.2 505.5 220.2 505.8 222.1 506.1 221.1 506.4 221.8 506.7 221.6 507.0 221.7 507.3 221.5 507.6 221.2 507.9 221.3 508.2 220.6 508.5 219.3 508.8 221.7 509.1 223.2 509.4 222.2 509.7 223.4 510.0 221.7 510.3 220.4 510.6 220.4 510.9 222.0 511.2 221.6 511.5 221.1 511.8 222.0 512.1 220.5 512.4 221.8 512.7 221.1 513.0 221.5 513.3 222.4 513.6 221.3 513.9 222.7 514.2 222.6 514.5 220.7 514.8 223.6 515.1 220.4 515.4 221.4 515.7 222.2 516.0 219.5 516.3 222.5 516.6 222.6 516.9 221.5 517.2 221.9 517.5 221.9 517.8 221.5 518.1 222.7 518.4 221.4 518.7 221.8 519.0 222.2 519.3 222.6 519.6 222.9 519.9 220.6 520.2 220.1 520.5 221.8 520.8 222.0 521.1 221.0 521.4 222.3 521.7 222.7 522.0 222.5 522.3 223.7 522.6 221.2 522.9 222.2 523.2 224.0 523.5 222.9 523.8 221.3 524.1 222.5 524.4 223.5 524.7 224.3 525.0 223.1 525.3 223.6 525.6 221.5 525.9 222.4 526.2 223.7 526.5 221.8 526.8 222.6 527.1 221.0 527.4 224.1 527.7 222.7 528.0 223.4 528.3 221.6 528.6 221.8 528.9 224.7 529.2 222.8 529.5 222.6 529.8 223.6" fill="none" stroke="#1c62e0" stroke-width="1.8" stroke-linejoin="round"/>
<path d="M52.2 300.7L52.5 298.0 52.8 299.8 53.1 299.2 53.4 299.2 53.7 299.4 54.0 298.3 54.3 299.4 54.6 299.0 54.9 301.5 55.2 299.6 55.5 299.3 55.8 299.3 56.1 299.1 56.4 298.9 56.7 299.3 57.0 299.8 57.3 299.4 57.6 300.1 57.9 299.4 58.2 299.6 58.5 300.5 58.8 299.9 59.1 299.3 59.4 299.6 59.7 300.1 60.0 301.0 60.3 299.7 60.6 299.8 60.9 300.6 61.2 299.6 61.5 300.0 61.8 300.8 62.1 300.7 62.4 300.5 62.7 300.9 63.0 298.9 63.3 301.3 63.6 300.2 63.9 299.8 64.2 301.1 64.5 301.4 64.8 300.8 65.1 300.5 65.4 301.3 65.7 301.3 66.0 302.3 66.3 302.0 66.6 301.7 66.9 302.4 67.2 301.7 67.5 301.4 67.8 302.4 68.1 302.5 68.4 302.1 68.7 301.9 69.0 302.6 69.3 301.1 69.6 303.1 69.9 303.1 70.2 302.0 70.5 303.1 70.8 302.6 71.1 303.8 71.4 302.2 71.7 303.0 72.0 304.1 72.3 304.5 72.6 302.7 72.9 303.8 73.2 304.5 73.5 304.0 73.8 305.5 74.1 304.0 74.4 305.1 74.7 304.4 75.0 306.1 75.3 305.4 75.6 305.3 75.9 304.7 76.2 306.9 76.5 306.5 76.8 306.7 77.1 307.1 77.4 306.8 77.7 306.4 78.0 306.4 78.3 306.6 78.6 308.1 78.9 306.5 79.2 307.2 79.5 307.5 79.8 308.0 80.1 308.4 80.4 307.4 80.7 307.3 81.0 308.5 81.3 309.4 81.6 309.3 81.9 309.1 82.2 309.0 82.5 309.5 82.8 309.4 83.1 310.2 83.4 309.3 83.7 310.1 84.0 310.1 84.3 310.6 84.6 310.6 84.9 312.1 85.2 311.6 85.5 311.7 85.8 309.7 86.1 310.9 86.4 310.8 86.7 311.6 87.0 310.1 87.3 312.2 87.6 312.3 87.9 311.0 88.2 311.3 88.5 311.5 88.8 312.1 89.1 312.6 89.4 313.5 89.7 312.3 90.0 313.0 90.3 312.7 90.6 313.8 90.9 313.2 91.2 313.7 91.5 312.3 91.8 312.9 92.1 312.6 92.4 314.1 92.7 313.6 93.0 313.1 93.3 313.1 93.6 313.7 93.9 313.0 94.2 312.9 94.5 313.8 94.8 315.1 95.1 313.5 95.4 313.3 95.7 313.0 96.0 312.9 96.3 314.1 96.6 314.3 96.9 313.9 97.2 314.1 97.5 314.0 97.8 314.0 98.1 313.1 98.4 313.7 98.7 314.1 99.0 313.6 99.3 313.8 99.6 313.6 99.9 313.9 100.2 314.6 100.5 313.9 100.8 314.0 101.1 314.6 101.4 314.5 101.7 315.1 102.0 312.8 102.3 314.6 102.6 313.8 102.9 314.2 103.2 314.6 103.5 314.7 103.8 314.7 104.1 314.1 104.4 315.0 104.7 313.8 105.0 313.9 105.3 314.5 105.6 313.6 105.9 315.2 106.2 314.5 106.5 315.2 106.8 313.9 107.1 313.6 107.4 314.0 107.7 314.3 108.0 313.5 108.3 314.0 108.6 313.8 108.9 314.7 109.2 313.3 109.5 314.3 109.8 313.2 110.1 313.0 110.4 313.0 110.7 312.7 111.0 313.4 111.3 313.9 111.6 313.3 111.9 313.5 112.2 314.0 112.5 313.1 112.8 312.9 113.1 312.5 113.4 311.7 113.7 313.0 114.0 311.4 114.3 312.7 114.6 312.2 114.9 312.8 115.2 312.0 115.5 311.4 115.8 312.0 116.1 311.3 116.4 311.4 116.7 311.5 117.0 311.2 117.3 311.0 117.6 310.5 117.9 310.7 118.2 309.4 118.5 310.5 118.8 309.7 119.1 310.9 119.4 310.8 119.7 308.7 120.0 309.8 120.3 309.5 120.6 308.8 120.9 309.6 121.2 308.8 121.5 307.9 121.8 308.6 122.1 308.5 122.4 308.5 122.7 307.6 123.0 308.5 123.3 308.5 123.6 307.2 123.9 307.4 124.2 307.6 124.5 307.1 124.8 308.4 125.1 307.3 125.4 306.3 125.7 306.2 126.0 306.3 126.3 307.4 126.6 305.5 126.9 305.4 127.2 305.2 127.5 304.6 127.8 305.6 128.1 303.7 128.4 304.2 128.7 303.6 129.0 303.6 129.3 302.4 129.6 303.9 129.9 302.6 130.2 302.5 130.5 301.7 130.8 301.7 131.1 302.2 131.4 302.3 131.7 301.9 132.0 301.9 132.3 301.4 132.6 300.7 132.9 300.9 133.2 300.5 133.5 299.8 133.8 300.1 134.1 300.1 134.4 299.2 134.7 298.6 135.0 298.9 135.3 299.3 135.6 297.8 135.9 297.7 136.2 297.8 136.5 298.9 136.8 297.5 137.1 299.3 137.4 300.2 137.7 299.3 138.0 300.9 138.3 300.3 138.6 299.6 138.9 300.0 139.2 298.8 139.5 299.2 139.8 300.5 140.1 298.7 140.4 300.1 140.7 298.8 141.0 299.2 141.3 298.5 141.6 296.9 141.9 297.8 142.2 298.1 142.5 297.2 142.8 296.9 143.1 297.8 143.4 297.0 143.7 296.1 144.0 296.5 144.3 297.1 144.6 295.9 144.9 296.1 145.2 295.3 145.5 293.0 145.8 290.4 146.1 286.5 146.4 282.4 146.7 278.9 147.0 276.8 147.3 277.9 147.6 279.5 147.9 282.7 148.2 284.7 148.5 287.8 148.8 290.5 149.1 293.2 149.4 295.7 149.7 295.8 150.0 296.3 150.3 297.6 150.6 297.4 150.9 299.4 151.2 298.4 151.5 297.6 151.8 298.6 152.1 298.5 152.4 298.0 152.7 299.2 153.0 298.2 153.3 297.0 153.6 299.5 153.9 298.8 154.2 300.3 154.5 299.2 154.8 299.1 155.1 301.0 155.4 299.6 155.7 300.5 156.0 301.4 156.3 300.8 156.6 300.8 156.9 301.0 157.2 301.6 157.5 300.6 157.8 301.5 158.1 301.4 158.4 302.3 158.7 300.6 159.0 300.1 159.3 300.9 159.6 300.0 159.9 300.2 160.2 300.0 160.5 300.5 160.8 299.3 161.1 299.7 161.4 298.3 161.7 299.6 162.0 301.4 162.3 300.5 162.6 300.9 162.9 301.1 163.2 302.6 163.5 302.6 163.8 302.1 164.1 303.4 164.4 303.3 164.7 303.7 165.0 303.0 165.3 304.6 165.6 303.9 165.9 303.7 166.2 303.6 166.5 303.9 166.8 304.6 167.1 304.1 167.4 305.0 167.7 304.8 168.0 305.4 168.3 305.2 168.6 304.9 168.9 303.9 169.2 305.4 169.5 306.0 169.8 305.8 170.1 306.3 170.4 305.9 170.7 306.2 171.0 306.1 171.3 307.7 171.6 307.2 171.9 307.0 172.2 306.6 172.5 307.4 172.8 308.5 173.1 307.8 173.4 306.3 173.7 306.2 174.0 304.4 174.3 302.4 174.6 300.8 174.9 300.3 175.2 300.2 175.5 302.1 175.8 303.4 176.1 306.5 176.4 306.0 176.7 305.8 177.0 300.9 177.3 299.7 177.6 297.0 177.9 294.1 178.2 293.8 178.5 294.9 178.8 297.1 179.1 299.3 179.4 302.0 179.7 304.4 180.0 306.2 180.3 307.1 180.6 308.4 180.9 309.4 181.2 310.4 181.5 309.4 181.8 309.4 182.1 310.4 182.4 309.8 182.7 310.2 183.0 310.7 183.3 311.0 183.6 310.2 183.9 311.3 184.2 309.9 184.5 311.3 184.8 310.1 185.1 310.3 185.4 311.6 185.7 311.0 186.0 310.8 186.3 311.1 186.6 311.7 186.9 311.5 187.2 311.6 187.5 312.3 187.8 311.3 188.1 311.5 188.4 311.5 188.7 312.6 189.0 312.5 189.3 312.8 189.6 312.0 189.9 312.0 190.2 312.7 190.5 312.0 190.8 312.8 191.1 312.8 191.4 312.0 191.7 312.4 192.0 312.5 192.3 313.6 192.6 314.2 192.9 312.7 193.2 312.8 193.5 311.5 193.8 313.0 194.1 313.0 194.4 312.4 194.7 313.6 195.0 312.2 195.3 313.1 195.6 313.3 195.9 312.6 196.2 313.9 196.5 314.1 196.8 312.6 197.1 312.7 197.4 313.9 197.7 313.6 198.0 313.0 198.3 313.6 198.6 313.8 198.9 313.8 199.2 314.4 199.5 314.2 199.8 315.1 200.1 314.9 200.4 314.5 200.7 314.8 201.0 315.0 201.3 314.6 201.6 313.5 201.9 314.7 202.2 314.2 202.5 315.1 202.8 314.2 203.1 314.4 203.4 314.3 203.7 315.0 204.0 314.1 204.3 313.7 204.6 314.0 204.9 313.4 205.2 313.6 205.5 312.4 205.8 311.1 206.1 311.0 206.4 309.8 206.7 311.0 207.0 312.1 207.3 314.0 207.6 313.8 207.9 314.3 208.2 314.7 208.5 315.0 208.8 314.6 209.1 314.2 209.4 313.9 209.7 314.7 210.0 315.1 210.3 314.3 210.6 314.1 210.9 314.1 211.2 313.1 211.5 313.2 211.8 313.1 212.1 313.2 212.4 312.7 212.7 311.8 213.0 312.6 213.3 312.0 213.6 309.6 213.9 308.6 214.2 307.1 214.5 306.3 214.8 304.1 215.1 305.7 215.4 304.7 215.7 306.6 216.0 307.0 216.3 308.1 216.6 309.6 216.9 311.3 217.2 311.1 217.5 312.3 217.8 313.0 218.1 313.0 218.4 315.3 218.7 315.0 219.0 314.7 219.3 315.4 219.6 314.1 219.9 314.6 220.2 315.7 220.5 315.2 220.8 313.3 221.1 312.6 221.4 313.9 221.7 315.1 222.0 314.2 222.3 314.3 222.6 314.7 222.9 313.8 223.2 314.4 223.5 314.7 223.8 314.4 224.1 314.3 224.4 313.7 224.7 314.2 225.0 313.6 225.3 314.5 225.6 315.2 225.9 313.0 226.2 312.1 226.5 313.0 226.8 313.3 227.1 313.6 227.4 313.5 227.7 312.2 228.0 312.0 228.3 313.1 228.6 311.6 228.9 312.7 229.2 311.8 229.5 312.3 229.8 312.1 230.1 312.0 230.4 311.9 230.7 310.7 231.0 311.3 231.3 311.0 231.6 311.0 231.9 311.4 232.2 310.3 232.5 309.9 232.8 309.8 233.1 309.9 233.4 310.3 233.7 309.2 234.0 310.3 234.3 309.6 234.6 309.1 234.9 308.3 235.2 309.1 235.5 309.2 235.8 307.6 236.1 309.2 236.4 309.3 236.7 308.4 237.0 308.3 237.3 309.3 237.6 308.4 237.9 307.0 238.2 307.3 238.5 307.1 238.8 306.9 239.1 305.3 239.4 307.0 239.7 305.9 240.0 306.1 240.3 305.7 240.6 306.0 240.9 305.0 241.2 304.3 241.5 304.7 241.8 304.9 242.1 303.4 242.4 304.0 242.7 302.8 243.0 301.8 243.3 302.5 243.6 300.5 243.9 300.9 244.2 299.3 244.5 299.0 244.8 297.0 245.1 296.2 245.4 296.1 245.7 294.3 246.0 292.4 246.3 289.5 246.6 287.1 246.9 283.3 247.2 281.2 247.5 280.4 247.8 279.3 248.1 278.8 248.4 278.8 248.7 278.6 249.0 279.2 249.3 281.5 249.6 281.7 249.9 280.9 250.2 277.9 250.5 274.9 250.8 272.1 251.1 271.8 251.4 270.9 251.7 272.3 252.0 273.7 252.3 275.0 252.6 275.4 252.9 275.3 253.2 277.6 253.5 277.6 253.8 278.4 254.1 277.4 254.4 277.6 254.7 278.4 255.0 277.7 255.3 279.0 255.6 278.5 255.9 279.1 256.2 281.0 256.5 282.1 256.8 281.6 257.1 282.8 257.4 282.8 257.7 284.5 258.0 286.0 258.3 286.4 258.6 287.0 258.9 287.4 259.2 289.3 259.5 290.4 259.8 291.1 260.1 291.8 260.4 291.7 260.7 294.4 261.0 294.1 261.3 294.9 261.6 296.2 261.9 295.3 262.2 297.3 262.5 298.0 262.8 299.0 263.1 300.3 263.4 300.4 263.7 299.7 264.0 301.3 264.3 302.3 264.6 302.9 264.9 302.6 265.2 303.0 265.5 304.9 265.8 305.3 266.1 305.7 266.4 305.2 266.7 307.8 267.0 305.5 267.3 307.5 267.6 309.5 267.9 308.6 268.2 309.3 268.5 308.9 268.8 310.8 269.1 309.6 269.4 310.8 269.7 311.1 270.0 310.7 270.3 312.1 270.6 311.1 270.9 311.8 271.2 312.4 271.5 312.3 271.8 313.0 272.1 313.2 272.4 312.4 272.7 312.1 273.0 312.0 273.3 311.9 273.6 312.5 273.9 311.9 274.2 312.4 274.5 312.3 274.8 312.2 275.1 313.6 275.4 312.9 275.7 313.9 276.0 315.2 276.3 314.0 276.6 314.9 276.9 314.4 277.2 315.5 277.5 315.3 277.8 316.3 278.1 316.6 278.4 317.3 278.7 318.3 279.0 317.7 279.3 317.9 279.6 317.4 279.9 317.2 280.2 316.8 280.5 316.0 280.8 317.0 281.1 317.7 281.4 316.7 281.7 315.1 282.0 313.3 282.3 307.7 282.6 302.8 282.9 295.0 283.2 289.2 283.5 291.3 283.8 300.7 284.1 307.6 284.4 315.3 284.7 317.0 285.0 317.8 285.3 317.3 285.6 318.8 285.9 319.4 286.2 319.3 286.5 319.6 286.8 318.5 287.1 318.2 287.4 319.9 287.7 319.5 288.0 317.6 288.3 318.2 288.6 317.7 288.9 317.6 289.2 317.1 289.5 316.4 289.8 316.7 290.1 316.9 290.4 317.3 290.7 316.8 291.0 316.8 291.3 318.8 291.6 319.1 291.9 320.9 292.2 321.7 292.5 321.6 292.8 321.3 293.1 321.5 293.4 322.2 293.7 321.0 294.0 322.0 294.3 321.9 294.6 321.6 294.9 322.3 295.2 320.9 295.5 321.9 295.8 320.7 296.1 320.7 296.4 320.5 296.7 321.0 297.0 318.9 297.3 317.9 297.6 316.0 297.9 316.3 298.2 316.1 298.5 315.3 298.8 317.2 299.1 317.9 299.4 320.1 299.7 320.4 300.0 320.5 300.3 322.7 300.6 321.9 300.9 321.4 301.2 321.7 301.5 321.2 301.8 322.1 302.1 321.6 302.4 323.2 302.7 322.7 303.0 321.4 303.3 321.5 303.6 322.1 303.9 321.3 304.2 322.4 304.5 322.5 304.8 322.1 305.1 322.2 305.4 322.9 305.7 323.5 306.0 323.6 306.3 322.7 306.6 323.2 306.9 322.3 307.2 323.0 307.5 322.3 307.8 323.3 308.1 322.2 308.4 322.3 308.7 323.0 309.0 323.3 309.3 322.2 309.6 322.7 309.9 323.2 310.2 323.2 310.5 322.6 310.8 323.2 311.1 323.0 311.4 324.1 311.7 323.6 312.0 322.5 312.3 322.0 312.6 323.4 312.9 324.0 313.2 323.5 313.5 323.9 313.8 323.1 314.1 322.6 314.4 323.9 314.7 323.5 315.0 323.9 315.3 322.7 315.6 323.6 315.9 323.1 316.2 324.0 316.5 323.2 316.8 323.2 317.1 323.2 317.4 324.3 317.7 323.6 318.0 323.1 318.3 323.0 318.6 323.0 318.9 324.5 319.2 322.5 319.5 323.1 319.8 324.0 320.1 324.3 320.4 323.5 320.7 324.0 321.0 324.0 321.3 324.1 321.6 323.6 321.9 324.5 322.2 323.6 322.5 324.4 322.8 322.8 323.1 324.0 323.4 322.7 323.7 322.5 324.0 323.6 324.3 322.8 324.6 323.5 324.9 322.6 325.2 324.1 325.5 323.1 325.8 322.4 326.1 323.1 326.4 323.2 326.7 321.7 327.0 322.2 327.3 323.1 327.6 322.8 327.9 322.8 328.2 322.9 328.5 323.9 328.8 322.7 329.1 321.9 329.4 323.4 329.7 323.2 330.0 325.0 330.3 324.1 330.6 323.4 330.9 323.4 331.2 324.4 331.5 323.6 331.8 323.8 332.1 324.1 332.4 324.2 332.7 324.3 333.0 324.3 333.3 325.0 333.6 325.3 333.9 323.3 334.2 325.8 334.5 324.4 334.8 325.1 335.1 323.9 335.4 324.6 335.7 324.5 336.0 324.5 336.3 324.9 336.6 324.8 336.9 323.9 337.2 324.4 337.5 324.9 337.8 324.9 338.1 324.3 338.4 324.4 338.7 324.5 339.0 323.9 339.3 323.8 339.6 325.5 339.9 324.4 340.2 324.7 340.5 324.2 340.8 325.4 341.1 325.7 341.4 324.5 341.7 325.0 342.0 324.2 342.3 325.7 342.6 325.2 342.9 324.2 343.2 325.4 343.5 324.9 343.8 325.0 344.1 324.9 344.4 324.3 344.7 324.4 345.0 325.1 345.3 324.7 345.6 324.2 345.9 326.0 346.2 324.6 346.5 324.4 346.8 324.3 347.1 325.2 347.4 325.3 347.7 324.9 348.0 325.3 348.3 323.8 348.6 324.5 348.9 324.5 349.2 324.7 349.5 325.0 349.8 323.5 350.1 326.6 350.4 324.2 350.7 324.9 351.0 325.2 351.3 325.2 351.6 324.8 351.9 322.9 352.2 324.0 352.5 325.1 352.8 324.0 353.1 323.9 353.4 323.1 353.7 325.3 354.0 324.8 354.3 324.0 354.6 324.4 354.9 324.4 355.2 323.7 355.5 324.2 355.8 324.5 356.1 324.6 356.4 325.0 356.7 324.3 357.0 323.9 357.3 324.4 357.6 323.7 357.9 323.3 358.2 324.7 358.5 323.8 358.8 323.9 359.1 324.1 359.4 322.8 359.7 323.6 360.0 323.3 360.3 322.9 360.6 323.2 360.9 322.6 361.2 322.0 361.5 323.5 361.8 323.5 362.1 324.9 362.4 324.8 362.7 324.4 363.0 324.7 363.3 325.4 363.6 325.2 363.9 324.7 364.2 324.6 364.5 324.0 364.8 323.9 365.1 324.2 365.4 323.6 365.7 323.7 366.0 322.8 366.3 322.3 366.6 322.2 366.9 323.0 367.2 324.0 367.5 323.9 367.8 322.6 368.1 322.3 368.4 323.7 368.7 323.6 369.0 322.5 369.3 324.0 369.6 323.5 369.9 324.2 370.2 323.6 370.5 324.0 370.8 323.7 371.1 323.0 371.4 323.5 371.7 323.2 372.0 324.2 372.3 323.1 372.6 322.9 372.9 324.3 373.2 324.6 373.5 324.8 373.8 324.7 374.1 323.2 374.4 323.7 374.7 323.8 375.0 324.2 375.3 323.0 375.6 324.3 375.9 324.5 376.2 323.8 376.5 324.5 376.8 325.2 377.1 324.6 377.4 325.2 377.7 325.2 378.0 324.9 378.3 324.9 378.6 324.5 378.9 325.5 379.2 324.5 379.5 324.4 379.8 325.2 380.1 324.4 380.4 325.1 380.7 325.4 381.0 324.9 381.3 324.9 381.6 325.4 381.9 325.3 382.2 323.9 382.5 324.0 382.8 325.6 383.1 325.0 383.4 323.5 383.7 324.0 384.0 324.8 384.3 324.2 384.6 325.0 384.9 324.8 385.2 325.0 385.5 324.0 385.8 325.1 386.1 325.9 386.4 324.2 386.7 325.5 387.0 325.3 387.3 325.0 387.6 324.6 387.9 323.9 388.2 324.1 388.5 325.0 388.8 325.1 389.1 325.3 389.4 325.1 389.7 325.0 390.0 324.2 390.3 323.7 390.6 324.5 390.9 324.7 391.2 324.4 391.5 323.4 391.8 324.0 392.1 323.4 392.4 324.3 392.7 323.5 393.0 324.0 393.3 324.3 393.6 324.1 393.9 324.8 394.2 323.3 394.5 322.6 394.8 324.2 395.1 324.0 395.4 323.5 395.7 322.2 396.0 321.7 396.3 320.9 396.6 319.6 396.9 319.5 397.2 319.7 397.5 318.9 397.8 320.6 398.1 319.2 398.4 320.7 398.7 322.4 399.0 322.2 399.3 322.8 399.6 323.3 399.9 323.9 400.2 325.2 400.5 324.6 400.8 324.6 401.1 324.0 401.4 324.8 401.7 324.4 402.0 323.8 402.3 324.0 402.6 324.4 402.9 325.0 403.2 324.3 403.5 324.6 403.8 325.5 404.1 323.8 404.4 323.6 404.7 324.9 405.0 324.6 405.3 324.3 405.6 324.5 405.9 324.1 406.2 324.6 406.5 324.1 406.8 324.8 407.1 323.6 407.4 323.8 407.7 324.4 408.0 324.0 408.3 324.7 408.6 324.3 408.9 324.0 409.2 324.4 409.5 324.0 409.8 323.4 410.1 323.6 410.4 323.8 410.7 324.0 411.0 324.4 411.3 324.9 411.6 324.7 411.9 325.4 412.2 325.1 412.5 324.2 412.8 325.3 413.1 325.0 413.4 324.0 413.7 324.4 414.0 324.9 414.3 324.3 414.6 324.8 414.9 324.4 415.2 324.5 415.5 323.9 415.8 324.2 416.1 323.8 416.4 324.3 416.7 322.9 417.0 324.1 417.3 324.6 417.6 324.1 417.9 323.7 418.2 324.0 418.5 323.1 418.8 323.1 419.1 323.3 419.4 323.4 419.7 324.0 420.0 322.8 420.3 323.9 420.6 322.3 420.9 322.7 421.2 323.1 421.5 323.7 421.8 322.5 422.1 321.4 422.4 322.8 422.7 322.4 423.0 321.6 423.3 321.5 423.6 321.6 423.9 321.9 424.2 322.1 424.5 320.7 424.8 322.8 425.1 321.4 425.4 321.1 425.7 321.7 426.0 321.3 426.3 322.7 426.6 322.1 426.9 321.5 427.2 321.8 427.5 322.0 427.8 322.5 428.1 323.4 428.4 322.8 428.7 324.2 429.0 323.1 429.3 323.0 429.6 323.6 429.9 321.7 430.2 322.1 430.5 322.8 430.8 322.3 431.1 322.0 431.4 322.1 431.7 321.3 432.0 321.4 432.3 320.6 432.6 320.1 432.9 322.0 433.2 320.7 433.5 321.1 433.8 322.8 434.1 323.1 434.4 322.7 434.7 323.1 435.0 323.7 435.3 323.4 435.6 324.3 435.9 324.1 436.2 324.1 436.5 324.5 436.8 324.5 437.1 325.2 437.4 325.0 437.7 323.1 438.0 324.7 438.3 323.5 438.6 323.3 438.9 324.6 439.2 323.8 439.5 324.0 439.8 324.9 440.1 323.8 440.4 323.7 440.7 324.5 441.0 325.0 441.3 324.6 441.6 323.4 441.9 323.9 442.2 324.2 442.5 325.5 442.8 324.9 443.1 324.9 443.4 325.1 443.7 324.2 444.0 324.7 444.3 324.7 444.6 323.8 444.9 324.4 445.2 324.7 445.5 323.7 445.8 324.9 446.1 324.9 446.4 325.0 446.7 323.9 447.0 324.5 447.3 325.3 447.6 324.9 447.9 323.9 448.2 324.6 448.5 325.3 448.8 324.4 449.1 324.7 449.4 326.0 449.7 324.4 450.0 324.4 450.3 323.8 450.6 324.0 450.9 325.3 451.2 324.3 451.5 323.7 451.8 323.8 452.1 324.3 452.4 324.8 452.7 323.8 453.0 324.7 453.3 323.9 453.6 324.4 453.9 324.5 454.2 324.5 454.5 323.9 454.8 324.0 455.1 324.4 455.4 323.3 455.7 324.1 456.0 324.3 456.3 324.6 456.6 323.9 456.9 323.8 457.2 324.0 457.5 323.4 457.8 323.7 458.1 324.1 458.4 324.0 458.7 323.2 459.0 323.6 459.3 322.5 459.6 324.3 459.9 323.5 460.2 323.9 460.5 323.1 460.8 323.8 461.1 324.1 461.4 324.4 461.7 323.0 462.0 324.4 462.3 323.8 462.6 323.4 462.9 324.2 463.2 323.7 463.5 323.8 463.8 323.5 464.1 324.1 464.4 324.0 464.7 323.9 465.0 323.5 465.3 323.8 465.6 324.3 465.9 324.9 466.2 324.1 466.5 325.0 466.8 324.2 467.1 323.6 467.4 324.6 467.7 323.7 468.0 324.6 468.3 325.0 468.6 324.2 468.9 324.4 469.2 325.9 469.5 324.6 469.8 324.7 470.1 325.0 470.4 324.5 470.7 324.5 471.0 324.8 471.3 323.2 471.6 325.5 471.9 324.1 472.2 324.1 472.5 325.1 472.8 324.8 473.1 324.0 473.4 324.9 473.7 324.2 474.0 324.4 474.3 324.0 474.6 324.4 474.9 325.1 475.2 325.0 475.5 325.1 475.8 325.5 476.1 324.9 476.4 324.6 476.7 324.8 477.0 326.0 477.3 325.0 477.6 325.2 477.9 324.9 478.2 325.1 478.5 325.2 478.8 325.0 479.1 324.9 479.4 324.5 479.7 324.5 480.0 325.2 480.3 325.4 480.6 325.5 480.9 325.0 481.2 324.5 481.5 325.4 481.8 325.4 482.1 324.1 482.4 325.5 482.7 325.3 483.0 326.0 483.3 324.3 483.6 324.2 483.9 325.5 484.2 323.9 484.5 324.6 484.8 324.3 485.1 324.4 485.4 323.8 485.7 324.8 486.0 325.6 486.3 325.3 486.6 325.3 486.9 324.8 487.2 325.9 487.5 325.3 487.8 325.6 488.1 324.1 488.4 325.2 488.7 324.3 489.0 325.2 489.3 325.1 489.6 324.3 489.9 325.1 490.2 325.7 490.5 325.3 490.8 325.4 491.1 324.5 491.4 324.6 491.7 324.3 492.0 325.1 492.3 325.7 492.6 325.3 492.9 325.0 493.2 324.3 493.5 325.3 493.8 324.9 494.1 323.9 494.4 324.0 494.7 324.8 495.0 324.5 495.3 326.0 495.6 325.0 495.9 324.4 496.2 324.7 496.5 325.9 496.8 324.4 497.1 325.4 497.4 325.2 497.7 325.8 498.0 325.3 498.3 324.7 498.6 325.2 498.9 325.0 499.2 325.5 499.5 324.9 499.8 326.1 500.1 324.8 500.4 325.1 500.7 324.5 501.0 324.9 501.3 324.9 501.6 324.9 501.9 325.4 502.2 324.5 502.5 324.3 502.8 325.5 503.1 324.6 503.4 324.4 503.7 325.4 504.0 325.2 504.3 323.2 504.6 324.5 504.9 325.2 505.2 325.2 505.5 324.4 505.8 325.6 506.1 324.2 506.4 324.5 506.7 324.7 507.0 324.7 507.3 325.1 507.6 325.3 507.9 324.6 508.2 325.5 508.5 324.2 508.8 324.5 509.1 325.6 509.4 324.7 509.7 325.3 510.0 324.4 510.3 324.5 510.6 324.6 510.9 324.7 511.2 324.4 511.5 324.7 511.8 325.1 512.1 325.4 512.4 324.8 512.7 325.2 513.0 325.4 513.3 324.2 513.6 324.0 513.9 325.9 514.2 325.8 514.5 325.1 514.8 325.3 515.1 324.6 515.4 324.4 515.7 325.4 516.0 324.4 516.3 325.9 516.6 325.0 516.9 325.6 517.2 326.6 517.5 326.6 517.8 325.3 518.1 326.1 518.4 324.9 518.7 325.2 519.0 325.7 519.3 326.3 519.6 325.2 519.9 325.8 520.2 325.6 520.5 324.8 520.8 325.4 521.1 326.4 521.4 325.5 521.7 325.8 522.0 326.0 522.3 325.1 522.6 326.3 522.9 326.4 523.2 326.5 523.5 326.3 523.8 325.2 524.1 325.2 524.4 325.0 524.7 325.0 525.0 325.0 525.3 326.1 525.6 326.4 525.9 325.1 526.2 326.0 526.5 324.8 526.8 325.3 527.1 324.9 527.4 324.5 527.7 325.5 528.0 325.6 528.3 325.3 528.6 325.2 528.9 324.9 529.2 325.4 529.5 325.1 529.8 325.7 530.1 324.8 530.4 325.6" fill="none" stroke="#f22c38" stroke-width="1.8" stroke-linejoin="round"/>
<path d="M52.2 419.6L52.5 419.7 52.8 420.2 53.1 419.9 53.4 419.2 53.7 419.6 54.0 419.4 54.3 419.6 54.6 419.1 54.9 419.6 55.2 419.6 55.5 420.0 55.8 419.6 56.1 419.7 56.4 419.1 56.7 420.1 57.0 419.0 57.3 419.8 57.6 419.4 57.9 419.3 58.2 419.3 58.5 419.4 58.8 419.7 59.1 419.6 59.4 420.0 59.7 419.1 60.0 419.7 60.3 419.5 60.6 420.0 60.9 419.2 61.2 419.7 61.5 419.9 61.8 419.5 62.1 420.2 62.4 420.1 62.7 420.3 63.0 420.4 63.3 419.9 63.6 420.0 63.9 420.2 64.2 420.5 64.5 420.5 64.8 420.1 65.1 420.2 65.4 420.2 65.7 420.3 66.0 420.4 66.3 420.5 66.6 421.2 66.9 420.5 67.2 420.6 67.5 420.8 67.8 420.5 68.1 420.7 68.4 420.8 68.7 421.1 69.0 420.6 69.3 421.4 69.6 420.9 69.9 421.1 70.2 421.3 70.5 421.3 70.8 421.5 71.1 421.3 71.4 421.2 71.7 421.4 72.0 421.0 72.3 421.7 72.6 421.2 72.9 421.1 73.2 422.0 73.5 421.4 73.8 421.2 74.1 422.1 74.4 421.5 74.7 421.9 75.0 421.4 75.3 421.6 75.6 421.2 75.9 421.2 76.2 421.5 76.5 421.8 76.8 422.0 77.1 422.5 77.4 421.6 77.7 422.2 78.0 421.7 78.3 421.9 78.6 421.5 78.9 421.6 79.2 421.8 79.5 421.7 79.8 422.0 80.1 421.9 80.4 422.4 80.7 422.2 81.0 422.2 81.3 422.5 81.6 422.3 81.9 422.2 82.2 422.2 82.5 422.2 82.8 422.6 83.1 422.5 83.4 422.4 83.7 422.5 84.0 422.2 84.3 422.5 84.6 422.0 84.9 422.8 85.2 422.4 85.5 422.4 85.8 422.6 86.1 422.4 86.4 422.3 86.7 422.7 87.0 422.4 87.3 422.1 87.6 422.5 87.9 421.9 88.2 422.8 88.5 422.3 88.8 422.4 89.1 423.0 89.4 422.9 89.7 422.3 90.0 422.4 90.3 422.6 90.6 422.7 90.9 422.2 91.2 422.2 91.5 422.5 91.8 422.2 92.1 422.3 92.4 422.3 92.7 421.8 93.0 421.8 93.3 421.3 93.6 421.9 93.9 422.3 94.2 421.6 94.5 422.3 94.8 422.2 95.1 421.8 95.4 421.8 95.7 421.8 96.0 421.5 96.3 421.6 96.6 421.6 96.9 421.7 97.2 421.7 97.5 421.3 97.8 421.6 98.1 421.1 98.4 421.3 98.7 421.3 99.0 421.2 99.3 421.1 99.6 421.1 99.9 420.8 100.2 420.8 100.5 420.8 100.8 421.1 101.1 420.7 101.4 421.2 101.7 420.7 102.0 419.7 102.3 420.4 102.6 420.9 102.9 420.3 103.2 420.1 103.5 419.9 103.8 420.5 104.1 420.3 104.4 420.1 104.7 420.0 105.0 420.2 105.3 419.9 105.6 419.3 105.9 419.7 106.2 419.5 106.5 419.3 106.8 419.5 107.1 419.2 107.4 418.2 107.7 419.4 108.0 419.2 108.3 418.7 108.6 418.6 108.9 418.6 109.2 418.1 109.5 418.4 109.8 418.2 110.1 418.1 110.4 417.8 110.7 417.7 111.0 418.1 111.3 418.1 111.6 417.7 111.9 417.5 112.2 417.1 112.5 417.4 112.8 417.6 113.1 416.5 113.4 417.2 113.7 416.1 114.0 416.5 114.3 416.6 114.6 415.9 114.9 415.8 115.2 416.1 115.5 416.1 115.8 415.6 116.1 416.0 116.4 415.2 116.7 415.8 117.0 415.1 117.3 415.0 117.6 414.9 117.9 414.6 118.2 414.9 118.5 414.8 118.8 414.1 119.1 413.7 119.4 413.3 119.7 413.2 120.0 413.2 120.3 413.0 120.6 412.8 120.9 412.6 121.2 412.6 121.5 411.9 121.8 411.8 122.1 412.2 122.4 411.9 122.7 411.3 123.0 411.7 123.3 411.0 123.6 410.9 123.9 410.3 124.2 410.9 124.5 410.5 124.8 410.6 125.1 410.3 125.4 409.9 125.7 409.7 126.0 409.8 126.3 409.2 126.6 408.9 126.9 408.7 127.2 408.7 127.5 408.4 127.8 408.4 128.1 407.6 128.4 407.7 128.7 406.9 129.0 406.9 129.3 406.5 129.6 406.6 129.9 406.0 130.2 405.4 130.5 405.4 130.8 405.0 131.1 404.5 131.4 404.1 131.7 403.6 132.0 404.2 132.3 403.1 132.6 403.0 132.9 402.0 133.2 401.7 133.5 401.6 133.8 401.3 134.1 401.1 134.4 400.2 134.7 400.2 135.0 400.1 135.3 399.1 135.6 399.4 135.9 398.7 136.2 399.1 136.5 399.0 136.8 399.4 137.1 398.7 137.4 398.9 137.7 399.1 138.0 398.5 138.3 398.8 138.6 398.5 138.9 398.6 139.2 398.9 139.5 398.9 139.8 399.5 140.1 399.1 140.4 399.1 140.7 398.6 141.0 398.6 141.3 398.7 141.6 398.0 141.9 399.0 142.2 398.3 142.5 398.2 142.8 398.3 143.1 398.6 143.4 398.6 143.7 398.1 144.0 398.2 144.3 398.0 144.6 397.7 144.9 397.9 145.2 397.8 145.5 397.3 145.8 398.0 146.1 397.2 146.4 397.6 146.7 397.2 147.0 397.2 147.3 397.2 147.6 397.6 147.9 397.0 148.2 397.2 148.5 397.7 148.8 397.0 149.1 397.2 149.4 397.5 149.7 397.3 150.0 397.8 150.3 397.7 150.6 398.3 150.9 398.5 151.2 398.5 151.5 399.4 151.8 399.3 152.1 399.5 152.4 399.5 152.7 399.8 153.0 400.1 153.3 400.3 153.6 400.7 153.9 400.2 154.2 400.6 154.5 401.2 154.8 401.1 155.1 401.3 155.4 401.8 155.7 401.5 156.0 401.7 156.3 401.7 156.6 402.4 156.9 402.3 157.2 402.0 157.5 402.5 157.8 402.1 158.1 402.9 158.4 402.9 158.7 402.9 159.0 402.9 159.3 402.7 159.6 403.6 159.9 403.5 160.2 403.6 160.5 404.0 160.8 403.8 161.1 404.0 161.4 404.1 161.7 404.1 162.0 405.3 162.3 404.7 162.6 404.8 162.9 405.3 163.2 404.3 163.5 405.3 163.8 405.5 164.1 405.4 164.4 405.9 164.7 405.4 165.0 406.1 165.3 406.5 165.6 405.8 165.9 406.2 166.2 406.7 166.5 406.9 166.8 406.8 167.1 407.3 167.4 407.4 167.7 407.1 168.0 407.6 168.3 407.4 168.6 407.3 168.9 407.3 169.2 408.4 169.5 408.3 169.8 409.0 170.1 408.2 170.4 408.7 170.7 409.0 171.0 409.0 171.3 409.2 171.6 409.2 171.9 409.0 172.2 408.5 172.5 408.7 172.8 409.3 173.1 408.8 173.4 408.6 173.7 407.8 174.0 407.5 174.3 407.0 174.6 407.0 174.9 406.6 175.2 406.4 175.5 406.5 175.8 405.4 176.1 405.5 176.4 404.5 176.7 404.8 177.0 404.1 177.3 403.9 177.6 403.7 177.9 404.0 178.2 403.5 178.5 403.5 178.8 403.9 179.1 405.2 179.4 405.8 179.7 406.8 180.0 407.7 180.3 408.4 180.6 408.6 180.9 409.5 181.2 410.3 181.5 409.8 181.8 411.0 182.1 411.6 182.4 411.1 182.7 411.7 183.0 411.3 183.3 412.0 183.6 412.0 183.9 412.3 184.2 412.1 184.5 412.3 184.8 412.5 185.1 412.6 185.4 412.8 185.7 413.0 186.0 412.8 186.3 413.2 186.6 413.5 186.9 412.8 187.2 413.6 187.5 413.5 187.8 413.4 188.1 413.5 188.4 413.7 188.7 413.8 189.0 414.2 189.3 413.8 189.6 414.5 189.9 414.1 190.2 414.6 190.5 414.8 190.8 414.2 191.1 414.9 191.4 415.3 191.7 414.6 192.0 415.0 192.3 414.8 192.6 415.0 192.9 415.0 193.2 414.9 193.5 415.3 193.8 415.4 194.1 415.2 194.4 415.7 194.7 415.7 195.0 415.6 195.3 415.3 195.6 416.1 195.9 416.0 196.2 415.1 196.5 415.4 196.8 415.6 197.1 416.1 197.4 416.2 197.7 415.9 198.0 416.1 198.3 416.3 198.6 415.8 198.9 416.4 199.2 416.2 199.5 416.4 199.8 416.4 200.1 416.1 200.4 416.2 200.7 416.6 201.0 416.7 201.3 416.6 201.6 417.1 201.9 416.7 202.2 416.6 202.5 416.9 202.8 417.0 203.1 417.1 203.4 417.6 203.7 417.5 204.0 417.7 204.3 417.6 204.6 417.3 204.9 417.3 205.2 416.3 205.5 415.8 205.8 415.0 206.1 415.2 206.4 415.3 206.7 415.8 207.0 416.5 207.3 417.0 207.6 417.0 207.9 416.8 208.2 417.2 208.5 417.2 208.8 417.1 209.1 417.3 209.4 417.4 209.7 417.4 210.0 418.0 210.3 417.5 210.6 417.6 210.9 418.0 211.2 417.6 211.5 417.5 211.8 417.6 212.1 418.1 212.4 418.1 212.7 418.1 213.0 417.9 213.3 417.8 213.6 418.3 213.9 417.7 214.2 418.0 214.5 417.7 214.8 418.0 215.1 418.1 215.4 418.4 215.7 417.3 216.0 418.5 216.3 417.8 216.6 418.1 216.9 418.2 217.2 417.8 217.5 417.9 217.8 418.1 218.1 417.9 218.4 417.7 218.7 417.9 219.0 417.8 219.3 417.3 219.6 418.1 219.9 417.7 220.2 416.9 220.5 417.3 220.8 418.0 221.1 417.9 221.4 417.5 221.7 416.9 222.0 417.2 222.3 417.5 222.6 417.2 222.9 416.9 223.2 416.7 223.5 417.0 223.8 416.6 224.1 416.7 224.4 416.6 224.7 416.8 225.0 416.2 225.3 416.1 225.6 415.4 225.9 416.0 226.2 415.8 226.5 415.4 226.8 414.6 227.1 414.9 227.4 415.0 227.7 415.4 228.0 414.7 228.3 414.6 228.6 414.4 228.9 414.4 229.2 413.5 229.5 413.3 229.8 413.0 230.1 413.0 230.4 412.8 230.7 412.7 231.0 412.1 231.3 412.2 231.6 411.7 231.9 412.3 232.2 411.3 232.5 412.0 232.8 411.5 233.1 410.4 233.4 410.8 233.7 410.4 234.0 409.6 234.3 409.9 234.6 409.5 234.9 409.4 235.2 408.8 235.5 408.8 235.8 408.8 236.1 408.4 236.4 408.1 236.7 408.0 237.0 407.6 237.3 407.8 237.6 406.8 237.9 407.8 238.2 407.2 238.5 407.1 238.8 407.0 239.1 406.2 239.4 407.0 239.7 405.8 240.0 406.0 240.3 405.7 240.6 405.7 240.9 405.0 241.2 404.3 241.5 404.5 241.8 403.4 242.1 403.7 242.4 403.3 242.7 403.4 243.0 402.5 243.3 402.0 243.6 401.5 243.9 400.9 244.2 400.4 244.5 400.0 244.8 398.8 245.1 398.4 245.4 397.2 245.7 396.8 246.0 396.1 246.3 394.9 246.6 394.2 246.9 393.6 247.2 393.0 247.5 392.2 247.8 391.0 248.1 389.9 248.4 388.8 248.7 388.6 249.0 387.8 249.3 386.6 249.6 386.0 249.9 384.5 250.2 383.7 250.5 383.3 250.8 381.7 251.1 381.2 251.4 380.2 251.7 379.2 252.0 378.8 252.3 377.2 252.6 376.7 252.9 375.7 253.2 375.6 253.5 375.3 253.8 375.0 254.1 374.7 254.4 374.7 254.7 374.3 255.0 374.0 255.3 374.8 255.6 375.2 255.9 375.1 256.2 375.7 256.5 376.8 256.8 377.0 257.1 377.6 257.4 378.1 257.7 378.7 258.0 379.2 258.3 380.3 258.6 380.9 258.9 381.6 259.2 382.5 259.5 383.4 259.8 384.6 260.1 385.0 260.4 387.0 260.7 387.0 261.0 388.1 261.3 389.5 261.6 389.9 261.9 391.0 262.2 392.2 262.5 392.3 262.8 394.0 263.1 394.8 263.4 396.0 263.7 397.1 264.0 398.0 264.3 399.1 264.6 399.9 264.9 400.6 265.2 401.0 265.5 402.1 265.8 402.3 266.1 403.2 266.4 404.3 266.7 404.8 267.0 404.8 267.3 405.6 267.6 406.6 267.9 407.2 268.2 407.9 268.5 407.7 268.8 408.4 269.1 409.2 269.4 409.5 269.7 410.2 270.0 410.7 270.3 411.1 270.6 411.3 270.9 411.7 271.2 412.0 271.5 412.0 271.8 411.7 272.1 412.5 272.4 412.4 272.7 412.6 273.0 412.6 273.3 412.3 273.6 413.1 273.9 413.0 274.2 413.1 274.5 414.0 274.8 413.8 275.1 414.2 275.4 414.6 275.7 415.1 276.0 414.4 276.3 415.0 276.6 415.7 276.9 415.6 277.2 415.2 277.5 416.6 277.8 417.1 278.1 417.7 278.4 418.1 278.7 418.3 279.0 419.0 279.3 419.3 279.6 419.4 279.9 419.9 280.2 420.0 280.5 419.6 280.8 420.0 281.1 419.7 281.4 419.4 281.7 418.1 282.0 418.6 282.3 418.2 282.6 417.6 282.9 417.9 283.2 417.2 283.5 418.0 283.8 418.0 284.1 418.2 284.4 419.2 284.7 419.4 285.0 419.9 285.3 419.8 285.6 420.6 285.9 421.0 286.2 420.9 286.5 420.3 286.8 421.2 287.1 421.3 287.4 421.1 287.7 420.8 288.0 420.6 288.3 420.8 288.6 420.9 288.9 421.1 289.2 421.2 289.5 420.9 289.8 420.6 290.1 420.9 290.4 420.3 290.7 420.6 291.0 419.6 291.3 420.1 291.6 420.5 291.9 420.4 292.2 421.5 292.5 421.8 292.8 422.2 293.1 422.7 293.4 423.4 293.7 423.8 294.0 423.1 294.3 424.0 294.6 423.8 294.9 423.8 295.2 424.0 295.5 424.1 295.8 424.2 296.1 424.5 296.4 424.1 296.7 425.0 297.0 424.7 297.3 424.3 297.6 424.0 297.9 424.6 298.2 424.6 298.5 425.0 298.8 425.0 299.1 425.4 299.4 424.9 299.7 425.2 300.0 425.0 300.3 425.0 300.6 425.6 300.9 425.2 301.2 425.3 301.5 425.3 301.8 425.5 302.1 425.7 302.4 425.5 302.7 425.3 303.0 425.8 303.3 425.5 303.6 425.7 303.9 425.9 304.2 426.0 304.5 425.3 304.8 426.5 305.1 426.4 305.4 426.7 305.7 427.0 306.0 426.1 306.3 426.2 306.6 426.5 306.9 426.8 307.2 426.5 307.5 426.6 307.8 427.0 308.1 426.6 308.4 426.9 308.7 427.2 309.0 426.9 309.3 427.3 309.6 427.1 309.9 426.7 310.2 427.1 310.5 427.2 310.8 427.2 311.1 427.4 311.4 427.5 311.7 427.6 312.0 427.6 312.3 427.4 312.6 427.5 312.9 427.5 313.2 427.5 313.5 428.1 313.8 427.2 314.1 427.8 314.4 427.3 314.7 427.6 315.0 428.1 315.3 427.8 315.6 428.3 315.9 427.6 316.2 427.9 316.5 427.8 316.8 428.0 317.1 427.9 317.4 427.9 317.7 428.1 318.0 428.4 318.3 428.1 318.6 428.1 318.9 428.1 319.2 428.0 319.5 427.8 319.8 427.9 320.1 428.2 320.4 427.7 320.7 428.4 321.0 428.1 321.3 428.0 321.6 428.1 321.9 428.5 322.2 428.4 322.5 428.4 322.8 428.9 323.1 429.0 323.4 428.0 323.7 428.7 324.0 428.2 324.3 428.1 324.6 428.3 324.9 428.8 325.2 428.4 325.5 428.4 325.8 428.9 326.1 428.7 326.4 428.6 326.7 429.1 327.0 428.8 327.3 428.4 327.6 428.3 327.9 428.6 328.2 428.7 328.5 429.0 328.8 429.0 329.1 428.8 329.4 428.4 329.7 429.0 330.0 428.8 330.3 428.5 330.6 428.5 330.9 428.9 331.2 428.9 331.5 429.1 331.8 428.5 332.1 429.4 332.4 428.4 332.7 428.9 333.0 429.3 333.3 429.2 333.6 428.6 333.9 429.0 334.2 429.1 334.5 428.9 334.8 428.2 335.1 428.8 335.4 427.7 335.7 428.0 336.0 427.6 336.3 427.6 336.6 427.6 336.9 427.8 337.2 427.4 337.5 428.0 337.8 428.6 338.1 428.6 338.4 429.0 338.7 429.3 339.0 429.2 339.3 429.4 339.6 429.6 339.9 429.8 340.2 430.2 340.5 430.2 340.8 429.6 341.1 429.6 341.4 429.5 341.7 429.1 342.0 430.2 342.3 430.0 342.6 429.3 342.9 429.9 343.2 430.6 343.5 430.0 343.8 430.1 344.1 430.0 344.4 429.7 344.7 429.6 345.0 429.7 345.3 430.0 345.6 429.9 345.9 430.2 346.2 430.5 346.5 430.2 346.8 430.3 347.1 429.9 347.4 429.7 347.7 430.7 348.0 430.3 348.3 430.4 348.6 430.0 348.9 429.6 349.2 430.5 349.5 429.5 349.8 430.1 350.1 430.0 350.4 430.3 350.7 430.5 351.0 430.5 351.3 429.7 351.6 430.6 351.9 429.7 352.2 430.5 352.5 430.2 352.8 430.0 353.1 430.2 353.4 430.0 353.7 430.4 354.0 430.6 354.3 430.6 354.6 430.4 354.9 430.7 355.2 430.5 355.5 431.0 355.8 430.5 356.1 430.1 356.4 430.1 356.7 429.9 357.0 429.9 357.3 429.8 357.6 429.9 357.9 429.7 358.2 429.4 358.5 429.3 358.8 428.9 359.1 428.8 359.4 428.2 359.7 428.7 360.0 428.8 360.3 429.7 360.6 428.8 360.9 429.4 361.2 429.5 361.5 429.4 361.8 430.1 362.1 430.2 362.4 429.9 362.7 429.7 363.0 430.4 363.3 430.0 363.6 430.6 363.9 430.3 364.2 430.5 364.5 430.3 364.8 430.8 365.1 430.6 365.4 430.8 365.7 430.4 366.0 430.1 366.3 430.0 366.6 430.3 366.9 430.5 367.2 430.2 367.5 431.1 367.8 430.4 368.1 430.5 368.4 430.4 368.7 430.0 369.0 430.7 369.3 430.6 369.6 430.6 369.9 430.1 370.2 430.4 370.5 430.4 370.8 430.7 371.1 430.0 371.4 430.6 371.7 430.8 372.0 430.3 372.3 430.2 372.6 430.8 372.9 430.5 373.2 430.8 373.5 430.7 373.8 430.8 374.1 430.4 374.4 429.8 374.7 430.6 375.0 430.3 375.3 430.6 375.6 430.3 375.9 430.9 376.2 430.4 376.5 430.7 376.8 430.8 377.1 430.5 377.4 430.6 377.7 430.5 378.0 430.2 378.3 430.9 378.6 430.2 378.9 430.1 379.2 430.4 379.5 430.5 379.8 430.5 380.1 430.4 380.4 430.4 380.7 429.9 381.0 430.7 381.3 431.0 381.6 430.3 381.9 430.0 382.2 430.7 382.5 430.5 382.8 429.4 383.1 430.3 383.4 430.1 383.7 430.2 384.0 431.1 384.3 430.8 384.6 430.4 384.9 430.5 385.2 430.9 385.5 430.2 385.8 430.7 386.1 430.3 386.4 430.7 386.7 430.5 387.0 430.2 387.3 430.7 387.6 430.6 387.9 431.0 388.2 430.3 388.5 430.4 388.8 430.2 389.1 430.7 389.4 430.2 389.7 430.4 390.0 430.7 390.3 430.5 390.6 430.4 390.9 430.4 391.2 430.4 391.5 430.5 391.8 430.2 392.1 429.7 392.4 430.6 392.7 429.9 393.0 430.7 393.3 430.3 393.6 431.1 393.9 430.5 394.2 430.2 394.5 430.4 394.8 429.6 395.1 429.9 395.4 429.6 395.7 429.4 396.0 428.6 396.3 428.3 396.6 428.9 396.9 428.5 397.2 428.1 397.5 428.1 397.8 427.9 398.1 428.0 398.4 428.6 398.7 428.7 399.0 429.3 399.3 429.3 399.6 429.4 399.9 430.0 400.2 430.4 400.5 430.2 400.8 430.4 401.1 430.4 401.4 430.8 401.7 430.7 402.0 430.8 402.3 430.3 402.6 430.6 402.9 430.9 403.2 430.5 403.5 430.5 403.8 430.3 404.1 430.7 404.4 430.5 404.7 430.8 405.0 430.5 405.3 431.1 405.6 430.5 405.9 430.1 406.2 430.6 406.5 430.6 406.8 430.9 407.1 430.4 407.4 430.3 407.7 430.4 408.0 430.4 408.3 429.9 408.6 430.7 408.9 430.9 409.2 430.3 409.5 430.2 409.8 430.5 410.1 430.3 410.4 430.7 410.7 430.3 411.0 430.7 411.3 430.1 411.6 430.1 411.9 430.0 412.2 430.1 412.5 430.6 412.8 430.7 413.1 430.5 413.4 430.6 413.7 429.9 414.0 430.8 414.3 430.1 414.6 430.9 414.9 431.2 415.2 430.5 415.5 430.7 415.8 430.6 416.1 430.1 416.4 430.1 416.7 430.3 417.0 430.5 417.3 430.7 417.6 430.5 417.9 430.7 418.2 430.3 418.5 430.0 418.8 430.4 419.1 430.4 419.4 430.0 419.7 430.7 420.0 430.1 420.3 430.1 420.6 430.4 420.9 430.0 421.2 430.5 421.5 430.4 421.8 430.4 422.1 430.3 422.4 430.1 422.7 430.0 423.0 430.3 423.3 430.6 423.6 430.4 423.9 430.3 424.2 430.5 424.5 430.5 424.8 429.8 425.1 430.1 425.4 430.4 425.7 429.8 426.0 429.8 426.3 430.0 426.6 429.7 426.9 430.1 427.2 429.7 427.5 430.1 427.8 430.9 428.1 430.7 428.4 430.1 428.7 430.2 429.0 430.2 429.3 430.3 429.6 429.7 429.9 430.0 430.2 430.1 430.5 429.8 430.8 428.9 431.1 428.8 431.4 428.6 431.7 428.4 432.0 429.1 432.3 428.6 432.6 428.6 432.9 429.3 433.2 429.6 433.5 430.3 433.8 430.5 434.1 430.3 434.4 429.9 434.7 430.7 435.0 430.8 435.3 431.1 435.6 430.2 435.9 430.3 436.2 431.1 436.5 431.1 436.8 431.1 437.1 430.7 437.4 431.1 437.7 430.6 438.0 430.4 438.3 430.8 438.6 430.9 438.9 431.1 439.2 431.2 439.5 430.4 439.8 431.0 440.1 431.0 440.4 430.5 440.7 430.8 441.0 430.9 441.3 431.1 441.6 430.7 441.9 430.8 442.2 430.6 442.5 431.1 442.8 430.9 443.1 430.8 443.4 431.2 443.7 430.9 444.0 430.6 444.3 431.3 444.6 431.3 444.9 431.1 445.2 430.7 445.5 431.3 445.8 430.8 446.1 430.4 446.4 430.9 446.7 431.4 447.0 430.7 447.3 431.0 447.6 431.2 447.9 430.8 448.2 430.7 448.5 430.7 448.8 430.8 449.1 430.5 449.4 430.7 449.7 430.7 450.0 430.4 450.3 430.7 450.6 430.7 450.9 430.4 451.2 430.4 451.5 430.5 451.8 430.4 452.1 430.4 452.4 430.2 452.7 430.5 453.0 430.7 453.3 430.7 453.6 430.3 453.9 430.7 454.2 430.8 454.5 430.3 454.8 430.8 455.1 430.6 455.4 430.6 455.7 430.7 456.0 430.6 456.3 430.1 456.6 430.8 456.9 430.5 457.2 430.8 457.5 431.0 457.8 430.8 458.1 430.7 458.4 430.9 458.7 431.0 459.0 430.7 459.3 430.8 459.6 431.1 459.9 431.4 460.2 431.0 460.5 431.2 460.8 430.8 461.1 431.0 461.4 431.0 461.7 430.6 462.0 431.0 462.3 430.9 462.6 430.3 462.9 431.0 463.2 431.1 463.5 431.1 463.8 431.1 464.1 430.7 464.4 430.8 464.7 430.9 465.0 430.7 465.3 430.8 465.6 431.3 465.9 430.7 466.2 430.9 466.5 431.5 466.8 430.9 467.1 430.7 467.4 431.1 467.7 431.0 468.0 431.0 468.3 430.5 468.6 431.1 468.9 431.1 469.2 431.6 469.5 431.2 469.8 430.9 470.1 431.1 470.4 431.2 470.7 431.0 471.0 431.0 471.3 431.4 471.6 431.1 471.9 431.1 472.2 430.7 472.5 431.1 472.8 430.5 473.1 431.3 473.4 430.9 473.7 431.2 474.0 431.4 474.3 430.7 474.6 431.3 474.9 431.1 475.2 431.3 475.5 430.9 475.8 430.8 476.1 431.4 476.4 431.1 476.7 431.0 477.0 430.7 477.3 431.4 477.6 430.9 477.9 431.0 478.2 430.8 478.5 431.0 478.8 431.2 479.1 431.0 479.4 431.0 479.7 430.9 480.0 431.4 480.3 431.5 480.6 431.0 480.9 430.8 481.2 431.1 481.5 430.6 481.8 431.1 482.1 431.1 482.4 431.1 482.7 431.5 483.0 431.6 483.3 431.2 483.6 431.0 483.9 431.4 484.2 431.4 484.5 430.8 484.8 430.9 485.1 431.1 485.4 430.7 485.7 430.8 486.0 431.6 486.3 430.8 486.6 431.4 486.9 431.0 487.2 431.5 487.5 431.3 487.8 431.5 488.1 430.8 488.4 431.3 488.7 431.1 489.0 431.5 489.3 431.5 489.6 431.3 489.9 431.3 490.2 431.3 490.5 431.4 490.8 431.2 491.1 431.2 491.4 431.2 491.7 431.1 492.0 431.6 492.3 431.0 492.6 431.7 492.9 431.6 493.2 430.9 493.5 430.9 493.8 431.4 494.1 431.1 494.4 431.5 494.7 431.7 495.0 431.5 495.3 431.4 495.6 431.4 495.9 431.9 496.2 431.4 496.5 432.0 496.8 432.1 497.1 431.4 497.4 431.6 497.7 432.0 498.0 431.3 498.3 431.7 498.6 431.8 498.9 431.3 499.2 431.7 499.5 431.6 499.8 431.4 500.1 432.0 500.4 431.6 500.7 432.2 501.0 431.8 501.3 431.4 501.6 431.7 501.9 431.4 502.2 431.9 502.5 431.8 502.8 431.4 503.1 431.6 503.4 431.8 503.7 431.7 504.0 431.4 504.3 432.0 504.6 432.1 504.9 431.3 505.2 432.2 505.5 431.2 505.8 431.7 506.1 431.6 506.4 431.6 506.7 431.8 507.0 431.5 507.3 431.8 507.6 432.3 507.9 432.0 508.2 432.2 508.5 432.1 508.8 431.4 509.1 432.4 509.4 432.1 509.7 432.1 510.0 431.8 510.3 431.8 510.6 431.6 510.9 431.9 511.2 432.0 511.5 431.9 511.8 431.9 512.1 431.4 512.4 431.8 512.7 431.8 513.0 432.1 513.3 431.9 513.6 431.9 513.9 432.1 514.2 431.9 514.5 432.0 514.8 432.4 515.1 432.0 515.4 431.8 515.7 432.3 516.0 432.3 516.3 432.3 516.6 431.8 516.9 432.4 517.2 432.2 517.5 432.2 517.8 432.2 518.1 432.3 518.4 432.3 518.7 432.6 519.0 432.3 519.3 432.2 519.6 432.4 519.9 432.2 520.2 432.6 520.5 432.3 520.8 432.5 521.1 432.2 521.4 432.6 521.7 432.5 522.0 432.1 522.3 432.3 522.6 432.4 522.9 432.0 523.2 432.1 523.5 432.5 523.8 432.6 524.1 432.8 524.4 432.1 524.7 432.4 525.0 431.9 525.3 433.0 525.6 432.1 525.9 432.4 526.2 433.0 526.5 432.9 526.8 432.3 527.1 433.2 527.4 432.7 527.7 432.3 528.0 432.7 528.3 432.8 528.6 432.8 528.9 432.1 529.2 433.2 529.5 432.2 529.8 432.6 530.1 433.1 530.4 432.8" fill="none" stroke="#434343" stroke-width="2.3" stroke-linejoin="round"/>
<path d="M52.00 14.10 H531.40 V439.40" stroke="#6a6a6a" stroke-width="1.15" fill="none"/>
<path d="M52.00 13.60 V439.40" stroke="#777" stroke-width="1.7" fill="none"/>
<line x1="52.0" y1="120.5" x2="531.4" y2="120.5" stroke="#151515" stroke-width="1.3"/>
<g stroke="#151515" stroke-width="1.2"><line x1="81.96" y1="120.50" x2="81.96" y2="123.00"/><line x1="111.92" y1="120.50" x2="111.92" y2="124.70"/><line x1="141.89" y1="120.50" x2="141.89" y2="123.00"/><line x1="171.85" y1="120.50" x2="171.85" y2="124.70"/><line x1="201.81" y1="120.50" x2="201.81" y2="123.00"/><line x1="231.78" y1="120.50" x2="231.78" y2="124.70"/><line x1="261.74" y1="120.50" x2="261.74" y2="123.00"/><line x1="291.70" y1="120.50" x2="291.70" y2="124.70"/><line x1="321.66" y1="120.50" x2="321.66" y2="123.00"/><line x1="351.62" y1="120.50" x2="351.62" y2="124.70"/><line x1="381.59" y1="120.50" x2="381.59" y2="123.00"/><line x1="411.55" y1="120.50" x2="411.55" y2="124.70"/><line x1="441.51" y1="120.50" x2="441.51" y2="123.00"/><line x1="471.48" y1="120.50" x2="471.48" y2="124.70"/><line x1="501.44" y1="120.50" x2="501.44" y2="123.00"/></g>
<line x1="52.0" y1="227.5" x2="531.4" y2="227.5" stroke="#151515" stroke-width="1.5"/>
<g stroke="#151515" stroke-width="1.2"><line x1="81.96" y1="227.50" x2="81.96" y2="230.00"/><line x1="111.92" y1="227.50" x2="111.92" y2="231.70"/><line x1="141.89" y1="227.50" x2="141.89" y2="230.00"/><line x1="171.85" y1="227.50" x2="171.85" y2="231.70"/><line x1="201.81" y1="227.50" x2="201.81" y2="230.00"/><line x1="231.78" y1="227.50" x2="231.78" y2="231.70"/><line x1="261.74" y1="227.50" x2="261.74" y2="230.00"/><line x1="291.70" y1="227.50" x2="291.70" y2="231.70"/><line x1="321.66" y1="227.50" x2="321.66" y2="230.00"/><line x1="351.62" y1="227.50" x2="351.62" y2="231.70"/><line x1="381.59" y1="227.50" x2="381.59" y2="230.00"/><line x1="411.55" y1="227.50" x2="411.55" y2="231.70"/><line x1="441.51" y1="227.50" x2="441.51" y2="230.00"/><line x1="471.48" y1="227.50" x2="471.48" y2="231.70"/><line x1="501.44" y1="227.50" x2="501.44" y2="230.00"/></g>
<line x1="52.0" y1="333.6" x2="531.4" y2="333.6" stroke="#444" stroke-width="1.5"/>
<g stroke="#444" stroke-width="1.2"><line x1="81.96" y1="333.60" x2="81.96" y2="336.10"/><line x1="111.92" y1="333.60" x2="111.92" y2="337.80"/><line x1="141.89" y1="333.60" x2="141.89" y2="336.10"/><line x1="171.85" y1="333.60" x2="171.85" y2="337.80"/><line x1="201.81" y1="333.60" x2="201.81" y2="336.10"/><line x1="231.78" y1="333.60" x2="231.78" y2="337.80"/><line x1="261.74" y1="333.60" x2="261.74" y2="336.10"/><line x1="291.70" y1="333.60" x2="291.70" y2="337.80"/><line x1="321.66" y1="333.60" x2="321.66" y2="336.10"/><line x1="351.62" y1="333.60" x2="351.62" y2="337.80"/><line x1="381.59" y1="333.60" x2="381.59" y2="336.10"/><line x1="411.55" y1="333.60" x2="411.55" y2="337.80"/><line x1="441.51" y1="333.60" x2="441.51" y2="336.10"/><line x1="471.48" y1="333.60" x2="471.48" y2="337.80"/><line x1="501.44" y1="333.60" x2="501.44" y2="336.10"/></g>
<line x1="52.0" y1="439.4" x2="531.4" y2="439.4" stroke="#333" stroke-width="1.3"/>
<g stroke="#333" stroke-width="1.2"><line x1="52.00" y1="439.40" x2="52.00" y2="443.60"/><line x1="81.96" y1="439.40" x2="81.96" y2="441.90"/><line x1="111.92" y1="439.40" x2="111.92" y2="443.60"/><line x1="141.89" y1="439.40" x2="141.89" y2="441.90"/><line x1="171.85" y1="439.40" x2="171.85" y2="443.60"/><line x1="201.81" y1="439.40" x2="201.81" y2="441.90"/><line x1="231.78" y1="439.40" x2="231.78" y2="443.60"/><line x1="261.74" y1="439.40" x2="261.74" y2="441.90"/><line x1="291.70" y1="439.40" x2="291.70" y2="443.60"/><line x1="321.66" y1="439.40" x2="321.66" y2="441.90"/><line x1="351.62" y1="439.40" x2="351.62" y2="443.60"/><line x1="381.59" y1="439.40" x2="381.59" y2="441.90"/><line x1="411.55" y1="439.40" x2="411.55" y2="443.60"/><line x1="441.51" y1="439.40" x2="441.51" y2="441.90"/><line x1="471.48" y1="439.40" x2="471.48" y2="443.60"/><line x1="501.44" y1="439.40" x2="501.44" y2="441.90"/><line x1="531.40" y1="439.40" x2="531.40" y2="443.60"/></g>
<g font-family="Liberation Sans, Arial, sans-serif" font-size="17" fill="#111" stroke="#111" stroke-width="0.2"><text x="52.0" y="459.6" text-anchor="middle">10</text><text x="111.9" y="459.6" text-anchor="middle">15</text><text x="171.8" y="459.6" text-anchor="middle">20</text><text x="231.8" y="459.6" text-anchor="middle">25</text><text x="291.7" y="459.6" text-anchor="middle">30</text><text x="351.6" y="459.6" text-anchor="middle">35</text><text x="411.6" y="459.6" text-anchor="middle">40</text><text x="471.5" y="459.6" text-anchor="middle">45</text><text x="531.4" y="459.6" text-anchor="middle">50</text></g>
<text x="276.5" y="488.5" text-anchor="middle" font-family="Liberation Sans, Arial, sans-serif" font-size="25" fill="#111" stroke="#111" stroke-width="0.2">2θ (°)</text>
<text transform="translate(30.0,228) rotate(-90)" text-anchor="middle" font-family="Liberation Sans, Arial, sans-serif" font-size="25" fill="#111" stroke="#111" stroke-width="0.2">Intensity (a.u)</text>
<text x="528.8" y="34.0" text-anchor="end" font-family="Liberation Sans, Arial, sans-serif" font-weight="bold" font-size="17.1" letter-spacing="0.2" fill="#111">S-2.8A/B</text>
<text x="528.8" y="139.9" text-anchor="end" font-family="Liberation Sans, Arial, sans-serif" font-weight="bold" font-size="17.1" letter-spacing="0.2" fill="#111">S-2.5A/B</text>
<text x="528.8" y="245.8" text-anchor="end" font-family="Liberation Sans, Arial, sans-serif" font-weight="bold" font-size="17.1" letter-spacing="0.2" fill="#111">S-2.0A/B</text>
<text x="528.8" y="353.5" text-anchor="end" font-family="Liberation Sans, Arial, sans-serif" font-weight="bold" font-size="17.1" letter-spacing="0.2" fill="#111">S-1.25A/B</text>
<g font-family="Liberation Sans, Arial, sans-serif" font-size="14.6" fill="#111" stroke="#111" stroke-width="0.2"><text transform="translate(153.7,36.7) rotate(-90)" text-anchor="middle">17.9°</text><text transform="translate(222.2,49.7) rotate(-90)" text-anchor="middle">23.6°</text><text transform="translate(257.5,39.4) rotate(-90)" text-anchor="middle">26.7°</text><text transform="translate(304.8,60.5) rotate(-90)" text-anchor="middle">30.5°</text><text transform="translate(154.0,139.2) rotate(-90)" text-anchor="middle">17.9°</text><text transform="translate(220.7,161.4) rotate(-90)" text-anchor="middle">23.6°</text><text transform="translate(257.2,143.1) rotate(-90)" text-anchor="middle">26.5°</text><text transform="translate(306.9,176.2) rotate(-90)" text-anchor="middle">30.5°</text><text transform="translate(152.9,246.0) rotate(-90)" text-anchor="middle">17.9°</text><text transform="translate(183.5,264.2) rotate(-90)" text-anchor="middle">20.5°</text><text transform="translate(226.0,270.5) rotate(-90)" text-anchor="middle">23.6°</text><text transform="translate(256.9,246.0) rotate(-90)" text-anchor="middle">26.5°</text><text transform="translate(290.0,261.1) rotate(-90)" text-anchor="middle">29.2°</text><text transform="translate(307.9,291.1) rotate(-90)" text-anchor="middle">30.5°</text><text transform="translate(153.0,372.0) rotate(-90)" text-anchor="middle">17.9°</text><text transform="translate(186.9,376.4) rotate(-90)" text-anchor="middle">20.5°</text><text transform="translate(260.3,355.0) rotate(-90)" text-anchor="middle">26.9°</text></g>
</svg></body></html>
